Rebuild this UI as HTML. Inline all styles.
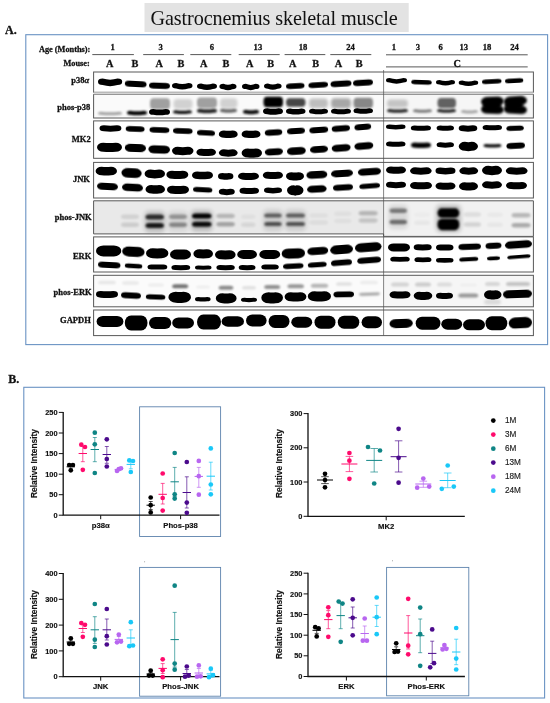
<!DOCTYPE html>
<html lang="en"><head><meta charset="utf-8"><title>Gastrocnemius skeletal muscle</title>
<style>html,body{margin:0;padding:0;background:#fff}svg{display:block}.s{font-family:'Liberation Serif','Times New Roman',serif}.a{font-family:'Liberation Sans',Arial,sans-serif}.b{font-weight:bold}.s.b{stroke:#111;stroke-width:.28px}.a.b{stroke:#111;stroke-width:.15px}</style></head><body>
<svg width="550" height="703" viewBox="0 0 550 703">
<rect width="550" height="703" fill="#fff"/>
<defs>
<filter id="b0_7" x="-30%" y="-80%" width="160%" height="260%"><feGaussianBlur stdDeviation="0.7"/></filter>
<filter id="b0_8" x="-30%" y="-80%" width="160%" height="260%"><feGaussianBlur stdDeviation="0.8"/></filter>
<filter id="b0_85" x="-30%" y="-80%" width="160%" height="260%"><feGaussianBlur stdDeviation="0.85"/></filter>
<filter id="b0_9" x="-30%" y="-80%" width="160%" height="260%"><feGaussianBlur stdDeviation="0.9"/></filter>
<filter id="b1_0" x="-30%" y="-80%" width="160%" height="260%"><feGaussianBlur stdDeviation="1.0"/></filter>
<filter id="b1_1" x="-30%" y="-80%" width="160%" height="260%"><feGaussianBlur stdDeviation="1.1"/></filter>
<filter id="b1_2" x="-30%" y="-80%" width="160%" height="260%"><feGaussianBlur stdDeviation="1.2"/></filter>
<filter id="b1_25" x="-30%" y="-80%" width="160%" height="260%"><feGaussianBlur stdDeviation="1.25"/></filter>
<filter id="b1_3" x="-30%" y="-80%" width="160%" height="260%"><feGaussianBlur stdDeviation="1.3"/></filter>
<filter id="b1_4" x="-30%" y="-80%" width="160%" height="260%"><feGaussianBlur stdDeviation="1.4"/></filter>
<filter id="b1_5" x="-30%" y="-80%" width="160%" height="260%"><feGaussianBlur stdDeviation="1.5"/></filter>
<filter id="b1_6" x="-30%" y="-80%" width="160%" height="260%"><feGaussianBlur stdDeviation="1.6"/></filter>
<filter id="b2_2" x="-30%" y="-80%" width="160%" height="260%"><feGaussianBlur stdDeviation="2.2"/></filter>
</defs>
<rect x="144.5" y="3" width="264.2" height="29" fill="#e3e3e3"/>
<text class="s" x="150.4" y="24.6" font-size="20.2" textLength="247.2" lengthAdjust="spacing" fill="#111">Gastrocnemius skeletal muscle</text>
<text class="s b" x="5" y="34.4" font-size="12" fill="#111">A.</text>
<text class="s b" x="8.2" y="383.4" font-size="12" fill="#111">B.</text>
<rect x="25.8" y="34.7" width="521.8" height="309.9" fill="none" stroke="#6a93c4" stroke-width="1.1"/>
<rect x="23.8" y="387.3" width="520.8" height="310.7" fill="none" stroke="#6a93c4" stroke-width="1.1"/>
<text class="s b" x="90.3" y="51.7" font-size="8.3" text-anchor="end" fill="#111">Age (Months):</text>
<text class="s b" x="89.8" y="65.8" font-size="8.3" text-anchor="end" fill="#111">Mouse:</text>
<text class="s b" x="112.6" y="50.2" font-size="8.6" text-anchor="middle" fill="#111">1</text>
<line x1="92.3" y1="54.6" x2="133.9" y2="54.6" stroke="#444" stroke-width="0.9"/>
<text class="s b" x="160.6" y="50.2" font-size="8.6" text-anchor="middle" fill="#111">3</text>
<line x1="143.2" y1="54.6" x2="183.9" y2="54.6" stroke="#444" stroke-width="0.9"/>
<text class="s b" x="212" y="50.2" font-size="8.6" text-anchor="middle" fill="#111">6</text>
<line x1="190.3" y1="54.6" x2="231.3" y2="54.6" stroke="#444" stroke-width="0.9"/>
<text class="s b" x="257.9" y="50.2" font-size="8.6" text-anchor="middle" fill="#111">13</text>
<line x1="238.7" y1="54.6" x2="279.7" y2="54.6" stroke="#444" stroke-width="0.9"/>
<text class="s b" x="303" y="50.2" font-size="8.6" text-anchor="middle" fill="#111">18</text>
<line x1="284.6" y1="54.6" x2="325.3" y2="54.6" stroke="#444" stroke-width="0.9"/>
<text class="s b" x="350.6" y="50.2" font-size="8.6" text-anchor="middle" fill="#111">24</text>
<line x1="330.3" y1="54.6" x2="371.3" y2="54.6" stroke="#444" stroke-width="0.9"/>
<text class="s b" x="109.7" y="66.5" font-size="10.3" text-anchor="middle" fill="#111">A</text>
<text class="s b" x="135" y="66.5" font-size="10.3" text-anchor="middle" fill="#111">B</text>
<text class="s b" x="159.2" y="66.5" font-size="10.3" text-anchor="middle" fill="#111">A</text>
<text class="s b" x="181" y="66.5" font-size="10.3" text-anchor="middle" fill="#111">B</text>
<text class="s b" x="203.7" y="66.5" font-size="10.3" text-anchor="middle" fill="#111">A</text>
<text class="s b" x="226" y="66.5" font-size="10.3" text-anchor="middle" fill="#111">B</text>
<text class="s b" x="249.7" y="66.5" font-size="10.3" text-anchor="middle" fill="#111">A</text>
<text class="s b" x="270.7" y="66.5" font-size="10.3" text-anchor="middle" fill="#111">B</text>
<text class="s b" x="292.8" y="66.5" font-size="10.3" text-anchor="middle" fill="#111">A</text>
<text class="s b" x="315.7" y="66.5" font-size="10.3" text-anchor="middle" fill="#111">B</text>
<text class="s b" x="338.4" y="66.5" font-size="10.3" text-anchor="middle" fill="#111">A</text>
<text class="s b" x="359.3" y="66.5" font-size="10.3" text-anchor="middle" fill="#111">B</text>
<text class="s b" x="393.9" y="50.2" font-size="8.6" text-anchor="middle" fill="#111">1</text>
<text class="s b" x="418" y="50.2" font-size="8.6" text-anchor="middle" fill="#111">3</text>
<text class="s b" x="440.7" y="50.2" font-size="8.6" text-anchor="middle" fill="#111">6</text>
<text class="s b" x="463.7" y="50.2" font-size="8.6" text-anchor="middle" fill="#111">13</text>
<text class="s b" x="487" y="50.2" font-size="8.6" text-anchor="middle" fill="#111">18</text>
<text class="s b" x="514.6" y="50.2" font-size="8.6" text-anchor="middle" fill="#111">24</text>
<line x1="386" y1="54.8" x2="527.7" y2="54.8" stroke="#444" stroke-width="0.9"/>
<line x1="386" y1="66.9" x2="527.7" y2="66.9" stroke="#444" stroke-width="0.9"/>
<text class="s b" x="457.2" y="67.1" font-size="10.3" text-anchor="middle" fill="#111">C</text>
<text class="s b" x="89.2" y="83" font-size="8.5" text-anchor="end" fill="#111">p38<tspan font-style="italic">α</tspan></text>
<clipPath id="c1"><rect x="93.6" y="72" width="439.8" height="20.3"/></clipPath>
<rect x="93.6" y="72" width="290" height="20.3" fill="#ffffff"/>
<rect x="383.6" y="72" width="149.8" height="20.3" fill="#ffffff"/>
<g clip-path="url(#c1)">
<path d="M102.7 78.6 Q110.1 80.8 117.5 78.6 A4.7 3.25 0 0 1 117.5 85.1 Q110.1 87.3 102.7 85.1 A4.7 3.25 0 0 1 102.7 78.6Z" fill="#000" opacity="1" filter="url(#b0_7)"/>
<path d="M129.2 81 Q135.7 81 142.2 81 A4.4 3 0 0 1 142.2 87 Q135.7 87 129.2 87 A4.4 3 0 0 1 129.2 81Z" fill="#000" opacity="1" filter="url(#b0_7)" transform="rotate(3 135.7 84)"/>
<path d="M153.4 82.7 Q159.5 82.7 165.6 82.7 A4.4 3 0 0 1 165.6 88.7 Q159.5 88.7 153.4 88.7 A4.4 3 0 0 1 153.4 82.7Z" fill="#000" opacity="1" filter="url(#b0_7)" transform="rotate(2 159.5 85.7)"/>
<path d="M176.1 82.9 Q182.25 85.1 188.4 82.9 A4.1 2.75 0 0 1 188.4 88.4 Q182.25 90.6 176.1 88.4 A4.1 2.75 0 0 1 176.1 82.9Z" fill="#000" opacity="1" filter="url(#b0_7)"/>
<path d="M201.1 83.5 Q207 85.7 212.9 83.5 A4.1 2.75 0 0 1 212.9 89 Q207 91.2 201.1 89 A4.1 2.75 0 0 1 201.1 83.5Z" fill="#000" opacity="1" filter="url(#b0_7)"/>
<path d="M223.5 83.7 Q227.95 85.9 232.4 83.7 A4.1 2.75 0 0 1 232.4 89.2 Q227.95 91.4 223.5 89.2 A4.1 2.75 0 0 1 223.5 83.7Z" fill="#000" opacity="1" filter="url(#b0_7)"/>
<path d="M245.92 83.85 Q250.75 86.05 255.58 83.85 A3.92 2.6 0 0 1 255.58 89.05 Q250.75 91.25 245.92 89.05 A3.92 2.6 0 0 1 245.92 83.85Z" fill="#000" opacity="1" filter="url(#b0_7)"/>
<path d="M267.92 83.45 Q272.8 85.65 277.68 83.45 A3.92 2.6 0 0 1 277.68 88.65 Q272.8 90.85 267.92 88.65 A3.92 2.6 0 0 1 267.92 83.45Z" fill="#000" opacity="1" filter="url(#b0_7)"/>
<path d="M290.1 83.25 Q295.25 83.25 300.4 83.25 A4.1 2.75 0 0 1 300.4 88.75 Q295.25 88.75 290.1 88.75 A4.1 2.75 0 0 1 290.1 83.25Z" fill="#000" opacity="1" filter="url(#b0_7)" transform="rotate(-3 295.25 86)"/>
<path d="M312.5 82.15 Q318.2 82.15 323.9 82.15 A4.1 2.75 0 0 1 323.9 87.65 Q318.2 87.65 312.5 87.65 A4.1 2.75 0 0 1 312.5 82.15Z" fill="#000" opacity="1" filter="url(#b0_7)" transform="rotate(-3.45 318.2 84.9)"/>
<path d="M334.9 80.7 Q341 80.7 347.1 80.7 A4.4 3 0 0 1 347.1 86.7 Q341 86.7 334.9 86.7 A4.4 3 0 0 1 334.9 80.7Z" fill="#000" opacity="1" filter="url(#b0_7)" transform="rotate(-3.45 341 83.7)"/>
<path d="M357.4 79.8 Q363 79.8 368.6 79.8 A4.4 3 0 0 1 368.6 85.8 Q363 85.8 357.4 85.8 A4.4 3 0 0 1 357.4 79.8Z" fill="#000" opacity="1" filter="url(#b0_7)" transform="rotate(-3.45 363 82.8)"/>
<path d="M389.5 78.1 Q396.5 80.3 403.5 78.1 A3.5 2.25 0 0 1 403.5 82.6 Q396.5 84.8 389.5 82.6 A3.5 2.25 0 0 1 389.5 78.1Z" fill="#000" opacity="1" filter="url(#b0_7)"/>
<path d="M414.8 80.05 Q421.5 80.05 428.2 80.05 A3.5 2.25 0 0 1 428.2 84.55 Q421.5 84.55 414.8 84.55 A3.5 2.25 0 0 1 414.8 80.05Z" fill="#000" opacity="1" filter="url(#b0_7)" transform="rotate(2 421.5 82.3)"/>
<path d="M439.5 80 Q445.5 82.2 451.5 80 A3.5 2.25 0 0 1 451.5 84.5 Q445.5 86.7 439.5 84.5 A3.5 2.25 0 0 1 439.5 80Z" fill="#000" opacity="1" filter="url(#b0_7)"/>
<path d="M462.2 80.4 Q468.45 82.6 474.7 80.4 A3.5 2.25 0 0 1 474.7 84.9 Q468.45 87.1 462.2 84.9 A3.5 2.25 0 0 1 462.2 80.4Z" fill="#000" opacity="1" filter="url(#b0_7)"/>
<path d="M485.5 79.35 Q491.75 79.35 498 79.35 A3.5 2.25 0 0 1 498 83.85 Q491.75 83.85 485.5 83.85 A3.5 2.25 0 0 1 485.5 79.35Z" fill="#000" opacity="1" filter="url(#b0_7)" transform="rotate(-3 491.75 81.6)"/>
<path d="M508.5 78.55 Q514.15 78.55 519.8 78.55 A3.5 2.25 0 0 1 519.8 83.05 Q514.15 83.05 508.5 83.05 A3.5 2.25 0 0 1 508.5 78.55Z" fill="#000" opacity="1" filter="url(#b0_7)" transform="rotate(-3 514.15 80.8)"/>
</g>
<rect x="93.6" y="72" width="439.8" height="20.3" fill="none" stroke="#585858" stroke-width="1.0"/>
<text class="s b" x="90.3" y="109.8" font-size="8.5" text-anchor="end" fill="#111">phos-p38</text>
<clipPath id="c2"><rect x="93.6" y="94.5" width="439.8" height="23.5"/></clipPath>
<rect x="93.6" y="94.5" width="290" height="23.5" fill="#fafafa"/>
<rect x="383.6" y="94.5" width="149.8" height="23.5" fill="#f6f6f6"/>
<g clip-path="url(#c2)">
<path d="M100.6 111.85 Q110 112.85 119.4 111.85 A2.6 1.5 0 0 1 119.4 114.85 Q110 115.85 100.6 114.85 A2.6 1.5 0 0 1 100.6 111.85Z" fill="#000" opacity="0.35" filter="url(#b0_9)"/>
<path d="M130.32 110.65 Q137 111.65 143.68 110.65 A3.32 2.1 0 0 1 143.68 114.85 Q137 115.85 130.32 114.85 A3.32 2.1 0 0 1 130.32 110.65Z" fill="#000" opacity="1" filter="url(#b0_8)"/>
<path d="M153.28 109.05 Q159.5 110.05 165.72 109.05 A4.28 2.9 0 0 1 165.72 114.85 Q159.5 115.85 153.28 114.85 A4.28 2.9 0 0 1 153.28 109.05Z" fill="#000" opacity="1" filter="url(#b0_7)"/>
<path d="M175.78 110.3 Q182.5 111.3 189.22 110.3 A2.78 1.65 0 0 1 189.22 113.6 Q182.5 114.6 175.78 113.6 A2.78 1.65 0 0 1 175.78 110.3Z" fill="#000" opacity="0.95" filter="url(#b0_8)"/>
<path d="M200.2 108.75 Q207 109.75 213.8 108.75 A3.2 2 0 0 1 213.8 112.75 Q207 113.75 200.2 112.75 A3.2 2 0 0 1 200.2 108.75Z" fill="#000" opacity="0.85" filter="url(#b0_8)"/>
<path d="M222.9 108.7 Q228.5 109.7 234.1 108.7 A2.9 1.75 0 0 1 234.1 112.2 Q228.5 113.2 222.9 112.2 A2.9 1.75 0 0 1 222.9 108.7Z" fill="#000" opacity="0.6" filter="url(#b0_9)"/>
<path d="M246.2 109.75 Q251 110.75 255.8 109.75 A3.2 2 0 0 1 255.8 113.75 Q251 114.75 246.2 113.75 A3.2 2 0 0 1 246.2 109.75Z" fill="#000" opacity="0.95" filter="url(#b0_8)"/>
<path d="M267.4 108.35 Q273 109.35 278.6 108.35 A4.4 3 0 0 1 278.6 114.35 Q273 115.35 267.4 114.35 A4.4 3 0 0 1 267.4 108.35Z" fill="#000" opacity="1" filter="url(#b0_7)"/>
<path d="M290.1 108.6 Q295.75 109.6 301.4 108.6 A4.1 2.75 0 0 1 301.4 114.1 Q295.75 115.1 290.1 114.1 A4.1 2.75 0 0 1 290.1 108.6Z" fill="#000" opacity="1" filter="url(#b0_7)"/>
<path d="M312.8 108.85 Q318.5 109.85 324.2 108.85 A3.8 2.5 0 0 1 324.2 113.85 Q318.5 114.85 312.8 113.85 A3.8 2.5 0 0 1 312.8 108.85Z" fill="#000" opacity="1" filter="url(#b0_7)"/>
<path d="M334.8 108.65 Q341 109.65 347.2 108.65 A3.8 2.5 0 0 1 347.2 113.65 Q341 114.65 334.8 113.65 A3.8 2.5 0 0 1 334.8 108.65Z" fill="#000" opacity="1" filter="url(#b0_7)"/>
<path d="M357.3 108.25 Q363.25 109.25 369.2 108.25 A3.8 2.5 0 0 1 369.2 113.25 Q363.25 114.25 357.3 113.25 A3.8 2.5 0 0 1 357.3 108.25Z" fill="#000" opacity="1" filter="url(#b0_7)"/>
<rect x="150" y="98.3" width="20" height="11" rx="3.5" ry="4.2" fill="#000" opacity="0.36" filter="url(#b1_3)"/>
<rect x="173.5" y="99" width="19" height="10" rx="3.5" ry="4.2" fill="#000" opacity="0.16" filter="url(#b1_5)"/>
<rect x="197" y="97.55" width="20" height="10.5" rx="3.5" ry="4.2" fill="#000" opacity="0.36" filter="url(#b1_3)"/>
<rect x="220" y="98.2" width="17.5" height="10" rx="3.5" ry="4.2" fill="#000" opacity="0.16" filter="url(#b1_5)"/>
<rect x="263.5" y="96.75" width="19.5" height="10.5" rx="3.5" ry="4.2" fill="#000" opacity="1" filter="url(#b0_9)"/>
<rect x="286" y="98.25" width="19.5" height="8.5" rx="3.5" ry="4.2" fill="#000" opacity="0.72" filter="url(#b1_3)"/>
<rect x="309" y="98.55" width="19" height="9.5" rx="3.5" ry="4.2" fill="#000" opacity="0.24" filter="url(#b1_5)"/>
<rect x="331" y="98.3" width="20" height="10" rx="3.5" ry="4.2" fill="#000" opacity="0.33" filter="url(#b1_4)"/>
<rect x="353.5" y="97.75" width="19.5" height="10.5" rx="3.5" ry="4.2" fill="#000" opacity="0.46" filter="url(#b1_3)"/>
<path d="M389.72 109.05 Q397.5 110.05 405.28 109.05 A2.72 1.6 0 0 1 405.28 112.25 Q397.5 113.25 389.72 112.25 A2.72 1.6 0 0 1 389.72 109.05Z" fill="#000" opacity="0.85" filter="url(#b0_8)"/>
<rect x="387" y="99.5" width="21" height="8" rx="3.5" ry="4" fill="#000" opacity="0.2" filter="url(#b1_6)"/>
<path d="M415.6 109.25 Q422.5 110.25 429.4 109.25 A2.6 1.5 0 0 1 429.4 112.25 Q422.5 113.25 415.6 112.25 A2.6 1.5 0 0 1 415.6 109.25Z" fill="#000" opacity="0.5" filter="url(#b0_9)"/>
<path d="M439.72 109.05 Q446.5 110.05 453.28 109.05 A2.72 1.6 0 0 1 453.28 112.25 Q446.5 113.25 439.72 112.25 A2.72 1.6 0 0 1 439.72 109.05Z" fill="#000" opacity="0.85" filter="url(#b0_8)"/>
<rect x="437.5" y="98" width="18.5" height="10" rx="3.5" ry="4.2" fill="#000" opacity="0.6" filter="url(#b1_3)"/>
<path d="M463.6 110.05 Q469.5 111.05 475.4 110.05 A2.6 1.5 0 0 1 475.4 113.05 Q469.5 114.05 463.6 113.05 A2.6 1.5 0 0 1 463.6 110.05Z" fill="#000" opacity="0.32" filter="url(#b0_9)"/>
<path d="M487.5 96.75 Q492.4 96.75 497.3 96.75 A6.5 4.75 0 0 1 497.3 106.25 Q492.4 106.25 487.5 106.25 A6.5 4.75 0 0 1 487.5 96.75Z" fill="#000" opacity="1" filter="url(#b0_8)" transform="rotate(-2 492.4 101.5)"/>
<path d="M486.9 105.25 Q492.4 105.25 497.9 105.25 A5.9 4.25 0 0 1 497.9 113.75 Q492.4 113.75 486.9 113.75 A5.9 4.25 0 0 1 486.9 105.25Z" fill="#000" opacity="1" filter="url(#b0_8)" transform="rotate(2 492.4 109.5)"/>
<path d="M488.6 101.25 Q492 102.25 495.4 101.25 A5.6 4 0 0 1 495.4 109.25 Q492 110.25 488.6 109.25 A5.6 4 0 0 1 488.6 101.25Z" fill="#000" opacity="1" filter="url(#b0_8)"/>
<path d="M510.3 96.25 Q515.4 96.25 520.5 96.25 A6.5 4.75 0 0 1 520.5 105.75 Q515.4 105.75 510.3 105.75 A6.5 4.75 0 0 1 510.3 96.25Z" fill="#000" opacity="1" filter="url(#b0_8)" transform="rotate(-3.9 515.4 101)"/>
<path d="M509.7 105.25 Q515.4 105.25 521.1 105.25 A5.9 4.25 0 0 1 521.1 113.75 Q515.4 113.75 509.7 113.75 A5.9 4.25 0 0 1 509.7 105.25Z" fill="#000" opacity="1" filter="url(#b0_8)" transform="rotate(3 515.4 109.5)"/>
<path d="M510.6 101.05 Q514 102.05 517.4 101.05 A5.6 4 0 0 1 517.4 109.05 Q514 110.05 510.6 109.05 A5.6 4 0 0 1 510.6 101.05Z" fill="#000" opacity="1" filter="url(#b0_8)"/>
</g>
<rect x="93.6" y="94.5" width="439.8" height="23.5" fill="none" stroke="#585858" stroke-width="1.0"/>
<text class="s b" x="90.7" y="142" font-size="8.5" text-anchor="end" fill="#111">MK2</text>
<clipPath id="c3"><rect x="93.6" y="120.9" width="439.8" height="37.4"/></clipPath>
<rect x="93.6" y="120.9" width="290" height="37.4" fill="#ffffff"/>
<rect x="383.6" y="120.9" width="149.8" height="37.4" fill="#ffffff"/>
<g clip-path="url(#c3)">
<path d="M103.9 125.35 Q110.45 125.95 117 125.35 A4.4 3 0 0 1 117 131.35 Q110.45 131.95 103.9 131.35 A4.4 3 0 0 1 103.9 125.35Z" fill="#000" opacity="1" filter="url(#b0_7)"/>
<path d="M129.8 126.25 Q135.15 126.25 140.5 126.25 A4.1 2.75 0 0 1 140.5 131.75 Q135.15 131.75 129.8 131.75 A4.1 2.75 0 0 1 129.8 126.25Z" fill="#000" opacity="1" filter="url(#b0_7)" transform="rotate(2 135.15 129)"/>
<path d="M153.6 127.25 Q159.45 127.25 165.3 127.25 A4.1 2.75 0 0 1 165.3 132.75 Q159.45 132.75 153.6 132.75 A4.1 2.75 0 0 1 153.6 127.25Z" fill="#000" opacity="1" filter="url(#b0_7)" transform="rotate(2 159.45 130)"/>
<path d="M177.1 128.25 Q182.8 128.25 188.5 128.25 A4.1 2.75 0 0 1 188.5 133.75 Q182.8 133.75 177.1 133.75 A4.1 2.75 0 0 1 177.1 128.25Z" fill="#000" opacity="1" filter="url(#b0_7)" transform="rotate(2 182.8 131)"/>
<path d="M200.92 130.3 Q206 130.3 211.08 130.3 A3.92 2.6 0 0 1 211.08 135.5 Q206 135.5 200.92 135.5 A3.92 2.6 0 0 1 200.92 130.3Z" fill="#000" opacity="1" filter="url(#b0_7)" transform="rotate(3 206 132.9)"/>
<path d="M223.92 130.55 Q228.25 131.15 232.58 130.55 A5.12 3.6 0 0 1 232.58 137.75 Q228.25 138.35 223.92 137.75 A5.12 3.6 0 0 1 223.92 130.55Z" fill="#000" opacity="1" filter="url(#b0_7)"/>
<path d="M246.72 130.55 Q251.05 131.15 255.38 130.55 A5.12 3.6 0 0 1 255.38 137.75 Q251.05 138.35 246.72 137.75 A5.12 3.6 0 0 1 246.72 130.55Z" fill="#000" opacity="1" filter="url(#b0_7)"/>
<path d="M269.2 129.6 Q273.55 129.6 277.9 129.6 A4.4 3 0 0 1 277.9 135.6 Q273.55 135.6 269.2 135.6 A4.4 3 0 0 1 269.2 129.6Z" fill="#000" opacity="1" filter="url(#b0_7)" transform="rotate(-3.45 273.55 132.6)"/>
<path d="M291.4 128 Q296 128 300.6 128 A4.4 3 0 0 1 300.6 134 Q296 134 291.4 134 A4.4 3 0 0 1 291.4 128Z" fill="#000" opacity="1" filter="url(#b0_7)" transform="rotate(-3.45 296 131)"/>
<path d="M313.58 127.1 Q318.75 127.1 323.92 127.1 A4.28 2.9 0 0 1 323.92 132.9 Q318.75 132.9 313.58 132.9 A4.28 2.9 0 0 1 313.58 127.1Z" fill="#000" opacity="1" filter="url(#b0_7)" transform="rotate(-3.9 318.75 130)"/>
<path d="M335.98 125.6 Q340.85 125.6 345.72 125.6 A4.28 2.9 0 0 1 345.72 131.4 Q340.85 131.4 335.98 131.4 A4.28 2.9 0 0 1 335.98 125.6Z" fill="#000" opacity="1" filter="url(#b0_7)" transform="rotate(-4.35 340.85 128.5)"/>
<path d="M358.68 124.1 Q362.8 124.1 366.92 124.1 A4.28 2.9 0 0 1 366.92 129.9 Q362.8 129.9 358.68 129.9 A4.28 2.9 0 0 1 358.68 124.1Z" fill="#000" opacity="1" filter="url(#b0_7)" transform="rotate(-4.8 362.8 127)"/>
<path d="M103.2 142.75 Q109.5 143.35 115.8 142.75 A6.2 4.5 0 0 1 115.8 151.75 Q109.5 152.35 103.2 151.75 A6.2 4.5 0 0 1 103.2 142.75Z" fill="#000" opacity="1" filter="url(#b0_7)"/>
<path d="M130.4 144 Q135.4 144 140.4 144 A5.6 4 0 0 1 140.4 152 Q135.4 152 130.4 152 A5.6 4 0 0 1 130.4 144Z" fill="#000" opacity="1" filter="url(#b0_7)" transform="rotate(2 135.4 148)"/>
<path d="M154 145.4 Q159.2 145.4 164.4 145.4 A5.6 4 0 0 1 164.4 153.4 Q159.2 153.4 154 153.4 A5.6 4 0 0 1 154 145.4Z" fill="#000" opacity="1" filter="url(#b0_7)" transform="rotate(2 159.2 149.4)"/>
<path d="M177.6 146.85 Q182.75 147.45 187.9 146.85 A5.6 4 0 0 1 187.9 154.85 Q182.75 155.45 177.6 154.85 A5.6 4 0 0 1 177.6 146.85Z" fill="#000" opacity="1" filter="url(#b0_7)"/>
<path d="M201.4 148.75 Q206.2 149.35 211 148.75 A5 3.5 0 0 1 211 155.75 Q206.2 156.35 201.4 155.75 A5 3.5 0 0 1 201.4 148.75Z" fill="#000" opacity="1" filter="url(#b0_7)"/>
<path d="M223.8 149.35 Q228.25 149.95 232.7 149.35 A5 3.5 0 0 1 232.7 156.35 Q228.25 156.95 223.8 156.35 A5 3.5 0 0 1 223.8 149.35Z" fill="#000" opacity="1" filter="url(#b0_7)"/>
<path d="M247.8 148.55 Q251.8 149.15 255.8 148.55 A6.2 4.5 0 0 1 255.8 157.55 Q251.8 158.15 247.8 157.55 A6.2 4.5 0 0 1 247.8 148.55Z" fill="#000" opacity="1" filter="url(#b0_7)"/>
<path d="M269.68 148.4 Q273.9 148.4 278.12 148.4 A4.88 3.4 0 0 1 278.12 155.2 Q273.9 155.2 269.68 155.2 A4.88 3.4 0 0 1 269.68 148.4Z" fill="#000" opacity="1" filter="url(#b0_7)" transform="rotate(-3.45 273.9 151.8)"/>
<path d="M292.3 147.25 Q296.4 147.25 300.5 147.25 A5.3 3.75 0 0 1 300.5 154.75 Q296.4 154.75 292.3 154.75 A5.3 3.75 0 0 1 292.3 147.25Z" fill="#000" opacity="1" filter="url(#b0_7)" transform="rotate(-3.45 296.4 151)"/>
<path d="M314.88 146 Q319 146 323.12 146 A4.88 3.4 0 0 1 323.12 152.8 Q319 152.8 314.88 152.8 A4.88 3.4 0 0 1 314.88 146Z" fill="#000" opacity="1" filter="url(#b0_7)" transform="rotate(-3.9 319 149.4)"/>
<path d="M336.58 144.6 Q341.15 144.6 345.72 144.6 A4.88 3.4 0 0 1 345.72 151.4 Q341.15 151.4 336.58 151.4 A4.88 3.4 0 0 1 336.58 144.6Z" fill="#000" opacity="1" filter="url(#b0_7)" transform="rotate(-4.35 341.15 148)"/>
<path d="M359.28 142.6 Q363.85 142.6 368.42 142.6 A4.88 3.4 0 0 1 368.42 149.4 Q363.85 149.4 359.28 149.4 A4.88 3.4 0 0 1 359.28 142.6Z" fill="#000" opacity="1" filter="url(#b0_7)" transform="rotate(-4.8 363.85 146)"/>
<path d="M389.5 124.6 Q395.75 125.2 402 124.6 A3.5 2.25 0 0 1 402 129.1 Q395.75 129.7 389.5 129.1 A3.5 2.25 0 0 1 389.5 124.6Z" fill="#000" opacity="1" filter="url(#b0_7)"/>
<path d="M414.6 125.55 Q420.9 126.15 427.2 125.55 A3.8 2.5 0 0 1 427.2 130.55 Q420.9 131.15 414.6 130.55 A3.8 2.5 0 0 1 414.6 125.55Z" fill="#000" opacity="1" filter="url(#b0_7)"/>
<path d="M440.4 125.55 Q445.3 126.15 450.2 125.55 A3.8 2.5 0 0 1 450.2 130.55 Q445.3 131.15 440.4 130.55 A3.8 2.5 0 0 1 440.4 125.55Z" fill="#000" opacity="1" filter="url(#b0_7)"/>
<path d="M463.1 125.35 Q468 125.95 472.9 125.35 A4.4 3 0 0 1 472.9 131.35 Q468 131.95 463.1 131.35 A4.4 3 0 0 1 463.1 125.35Z" fill="#000" opacity="1" filter="url(#b0_7)"/>
<path d="M486.4 124.95 Q492.3 125.55 498.2 124.95 A3.8 2.5 0 0 1 498.2 129.95 Q492.3 130.55 486.4 129.95 A3.8 2.5 0 0 1 486.4 124.95Z" fill="#000" opacity="1" filter="url(#b0_7)"/>
<path d="M510.2 125.7 Q515.1 125.7 520 125.7 A3.8 2.5 0 0 1 520 130.7 Q515.1 130.7 510.2 130.7 A3.8 2.5 0 0 1 510.2 125.7Z" fill="#000" opacity="1" filter="url(#b0_7)" transform="rotate(-2 515.1 128.2)"/>
<path d="M389.8 141.55 Q395.75 142.15 401.7 141.55 A3.8 2.5 0 0 1 401.7 146.55 Q395.75 147.15 389.8 146.55 A3.8 2.5 0 0 1 389.8 141.55Z" fill="#000" opacity="1" filter="url(#b0_7)"/>
<path d="M414.92 142.45 Q421 143.05 427.08 142.45 A3.92 2.6 0 0 1 427.08 147.65 Q421 148.25 414.92 147.65 A3.92 2.6 0 0 1 414.92 142.45Z" fill="#000" opacity="1" filter="url(#b0_85)"/>
<path d="M440.4 142.35 Q445.3 142.95 450.2 142.35 A3.8 2.5 0 0 1 450.2 147.35 Q445.3 147.95 440.4 147.35 A3.8 2.5 0 0 1 440.4 142.35Z" fill="#000" opacity="1" filter="url(#b0_7)"/>
<path d="M464.9 141.85 Q468.35 142.45 471.8 141.85 A6.2 4.5 0 0 1 471.8 150.85 Q468.35 151.45 464.9 150.85 A6.2 4.5 0 0 1 464.9 141.85Z" fill="#000" opacity="1" filter="url(#b0_7)"/>
<path d="M486.12 143.95 Q492.45 144.55 498.78 143.95 A2.72 1.6 0 0 1 498.78 147.15 Q492.45 147.75 486.12 147.15 A2.72 1.6 0 0 1 486.12 143.95Z" fill="#000" opacity="0.95" filter="url(#b0_8)"/>
<path d="M510.8 142.7 Q515.7 142.7 520.6 142.7 A4.4 3 0 0 1 520.6 148.7 Q515.7 148.7 510.8 148.7 A4.4 3 0 0 1 510.8 142.7Z" fill="#000" opacity="1" filter="url(#b0_7)" transform="rotate(-3 515.7 145.7)"/>
</g>
<rect x="93.6" y="120.9" width="439.8" height="37.4" fill="none" stroke="#585858" stroke-width="1.0"/>
<text class="s b" x="89.9" y="182.4" font-size="8.5" text-anchor="end" fill="#111">JNK</text>
<clipPath id="c4"><rect x="93.6" y="162.4" width="439.8" height="35.6"/></clipPath>
<rect x="93.6" y="162.4" width="290" height="35.6" fill="#ffffff"/>
<rect x="383.6" y="162.4" width="149.8" height="35.6" fill="#ffffff"/>
<g clip-path="url(#c4)">
<path d="M101.56 166.65 Q106.3 167.25 111.04 166.65 A5.96 4.3 0 0 1 111.04 175.25 Q106.3 175.85 101.56 175.25 A5.96 4.3 0 0 1 101.56 166.65Z" fill="#000" opacity="1" filter="url(#b0_7)"/>
<path d="M127.9 168.35 Q131.55 168.35 135.2 168.35 A6.5 4.75 0 0 1 135.2 177.85 Q131.55 177.85 127.9 177.85 A6.5 4.75 0 0 1 127.9 168.35Z" fill="#000" opacity="1" filter="url(#b0_7)" transform="rotate(3 131.55 173.1)"/>
<path d="M150.5 169.6 Q154.8 170.2 159.1 169.6 A5.9 4.25 0 0 1 159.1 178.1 Q154.8 178.7 150.5 178.1 A5.9 4.25 0 0 1 150.5 169.6Z" fill="#000" opacity="1" filter="url(#b0_7)"/>
<path d="M172 170.65 Q177.35 171.25 182.7 170.65 A5.6 4 0 0 1 182.7 178.65 Q177.35 179.25 172 178.65 A5.6 4 0 0 1 172 170.65Z" fill="#000" opacity="1" filter="url(#b0_7)"/>
<path d="M197.3 171.5 Q202.5 172.1 207.7 171.5 A5.3 3.75 0 0 1 207.7 179 Q202.5 179.6 197.3 179 A5.3 3.75 0 0 1 197.3 171.5Z" fill="#000" opacity="1" filter="url(#b0_7)"/>
<path d="M222.7 172.9 Q225.7 173.5 228.7 172.9 A4.7 3.25 0 0 1 228.7 179.4 Q225.7 180 222.7 179.4 A4.7 3.25 0 0 1 222.7 172.9Z" fill="#000" opacity="1" filter="url(#b0_7)"/>
<path d="M243 172.65 Q248.5 173.25 254 172.65 A5 3.5 0 0 1 254 179.65 Q248.5 180.25 243 179.65 A5 3.5 0 0 1 243 172.65Z" fill="#000" opacity="1" filter="url(#b0_7)"/>
<path d="M267.8 171.75 Q272.9 172.35 278 171.75 A5 3.5 0 0 1 278 178.75 Q272.9 179.35 267.8 178.75 A5 3.5 0 0 1 267.8 171.75Z" fill="#000" opacity="1" filter="url(#b0_7)"/>
<path d="M291.6 172.15 Q295 172.75 298.4 172.15 A5.6 4 0 0 1 298.4 180.15 Q295 180.75 291.6 180.15 A5.6 4 0 0 1 291.6 172.15Z" fill="#000" opacity="1" filter="url(#b0_7)"/>
<path d="M311.7 171.05 Q316.85 171.05 322 171.05 A5.3 3.75 0 0 1 322 178.55 Q316.85 178.55 311.7 178.55 A5.3 3.75 0 0 1 311.7 171.05Z" fill="#000" opacity="1" filter="url(#b0_7)" transform="rotate(-3 316.85 174.8)"/>
<path d="M336 169.9 Q342 169.9 348 169.9 A5 3.5 0 0 1 348 176.9 Q342 176.9 336 176.9 A5 3.5 0 0 1 336 169.9Z" fill="#000" opacity="1" filter="url(#b0_7)" transform="rotate(-3.45 342 173.4)"/>
<path d="M362.9 168.3 Q369.45 168.3 376 168.3 A5 3.5 0 0 1 376 175.3 Q369.45 175.3 362.9 175.3 A5 3.5 0 0 1 362.9 168.3Z" fill="#000" opacity="1" filter="url(#b0_7)" transform="rotate(-3.9 369.45 171.8)"/>
<path d="M102 183 Q107.5 183 113 183 A5 3.5 0 0 1 113 190 Q107.5 190 102 190 A5 3.5 0 0 1 102 183Z" fill="#000" opacity="1" filter="url(#b0_7)" transform="rotate(3 107.5 186.5)"/>
<path d="M127.3 183.85 Q132.5 183.85 137.7 183.85 A5.3 3.75 0 0 1 137.7 191.35 Q132.5 191.35 127.3 191.35 A5.3 3.75 0 0 1 127.3 183.85Z" fill="#000" opacity="1" filter="url(#b0_7)" transform="rotate(3 132.5 187.6)"/>
<path d="M151.4 185 Q155.25 185.6 159.1 185 A5.9 4.25 0 0 1 159.1 193.5 Q155.25 194.1 151.4 193.5 A5.9 4.25 0 0 1 151.4 185Z" fill="#000" opacity="1" filter="url(#b0_7)"/>
<path d="M172.6 185.65 Q178 186.25 183.4 185.65 A5.6 4 0 0 1 183.4 193.65 Q178 194.25 172.6 193.65 A5.6 4 0 0 1 172.6 185.65Z" fill="#000" opacity="1" filter="url(#b0_7)"/>
<path d="M196.8 187.3 Q202.7 187.3 208.6 187.3 A3.8 2.5 0 0 1 208.6 192.3 Q202.7 192.3 196.8 192.3 A3.8 2.5 0 0 1 196.8 187.3Z" fill="#000" opacity="1" filter="url(#b0_7)" transform="rotate(3 202.7 189.8)"/>
<path d="M223.2 188.85 Q226.8 189.45 230.4 188.85 A4.4 3 0 0 1 230.4 194.85 Q226.8 195.45 223.2 194.85 A4.4 3 0 0 1 223.2 188.85Z" fill="#000" opacity="1" filter="url(#b0_7)"/>
<path d="M243.9 187.65 Q249.25 188.25 254.6 187.65 A4.4 3 0 0 1 254.6 193.65 Q249.25 194.25 243.9 193.65 A4.4 3 0 0 1 243.9 187.65Z" fill="#000" opacity="1" filter="url(#b0_7)"/>
<path d="M268.1 187.6 Q273 188.2 277.9 187.6 A4.1 2.75 0 0 1 277.9 193.1 Q273 193.7 268.1 193.1 A4.1 2.75 0 0 1 268.1 187.6Z" fill="#000" opacity="1" filter="url(#b0_7)"/>
<path d="M293.8 185.35 Q295.25 185.95 296.7 185.35 A6.8 5 0 0 1 296.7 195.35 Q295.25 195.95 293.8 195.35 A6.8 5 0 0 1 293.8 185.35Z" fill="#000" opacity="1" filter="url(#b0_7)"/>
<path d="M312 185.6 Q316.85 185.6 321.7 185.6 A5 3.5 0 0 1 321.7 192.6 Q316.85 192.6 312 192.6 A5 3.5 0 0 1 312 185.6Z" fill="#000" opacity="1" filter="url(#b0_7)" transform="rotate(-3 316.85 189.1)"/>
<path d="M337.4 184.6 Q343 184.6 348.6 184.6 A4.4 3 0 0 1 348.6 190.6 Q343 190.6 337.4 190.6 A4.4 3 0 0 1 337.4 184.6Z" fill="#000" opacity="1" filter="url(#b0_7)" transform="rotate(-3.45 343 187.6)"/>
<path d="M363.1 183.6 Q369.65 183.6 376.2 183.6 A3.8 2.5 0 0 1 376.2 188.6 Q369.65 188.6 363.1 188.6 A3.8 2.5 0 0 1 363.1 183.6Z" fill="#000" opacity="1" filter="url(#b0_7)" transform="rotate(-4.35 369.65 186.1)"/>
<path d="M391 166.55 Q396 167.15 401 166.55 A5 3.5 0 0 1 401 173.55 Q396 174.15 391 173.55 A5 3.5 0 0 1 391 166.55Z" fill="#000" opacity="1" filter="url(#b0_7)"/>
<path d="M415 167.35 Q420.85 167.95 426.7 167.35 A5 3.5 0 0 1 426.7 174.35 Q420.85 174.95 415 174.35 A5 3.5 0 0 1 415 167.35Z" fill="#000" opacity="1" filter="url(#b0_7)"/>
<path d="M440.2 167.6 Q445.5 168.2 450.8 167.6 A4.7 3.25 0 0 1 450.8 174.1 Q445.5 174.7 440.2 174.1 A4.7 3.25 0 0 1 440.2 167.6Z" fill="#000" opacity="1" filter="url(#b0_7)"/>
<path d="M464.3 167.35 Q468.75 167.95 473.2 167.35 A5 3.5 0 0 1 473.2 174.35 Q468.75 174.95 464.3 174.35 A5 3.5 0 0 1 464.3 167.35Z" fill="#000" opacity="1" filter="url(#b0_7)"/>
<path d="M488.2 165.85 Q492 166.45 495.8 165.85 A6.2 4.5 0 0 1 495.8 174.85 Q492 175.45 488.2 174.85 A6.2 4.5 0 0 1 488.2 165.85Z" fill="#000" opacity="1" filter="url(#b0_7)"/>
<path d="M510.8 167.35 Q516.7 167.95 522.6 167.35 A5 3.5 0 0 1 522.6 174.35 Q516.7 174.95 510.8 174.35 A5 3.5 0 0 1 510.8 167.35Z" fill="#000" opacity="1" filter="url(#b0_7)"/>
<path d="M390.4 181.85 Q396 182.45 401.6 181.85 A4.4 3 0 0 1 401.6 187.85 Q396 188.45 390.4 187.85 A4.4 3 0 0 1 390.4 181.85Z" fill="#000" opacity="1" filter="url(#b0_7)"/>
<path d="M415 181.95 Q421 182.55 427 181.95 A5 3.5 0 0 1 427 188.95 Q421 189.55 415 188.95 A5 3.5 0 0 1 415 181.95Z" fill="#000" opacity="1" filter="url(#b0_7)"/>
<path d="M440.5 182.55 Q445.5 183.15 450.5 182.55 A5 3.5 0 0 1 450.5 189.55 Q445.5 190.15 440.5 189.55 A5 3.5 0 0 1 440.5 182.55Z" fill="#000" opacity="1" filter="url(#b0_7)"/>
<path d="M464.6 182.25 Q468.5 182.85 472.4 182.25 A5.6 4 0 0 1 472.4 190.25 Q468.5 190.85 464.6 190.25 A5.6 4 0 0 1 464.6 182.25Z" fill="#000" opacity="1" filter="url(#b0_7)"/>
<path d="M487 181.35 Q492 181.95 497 181.35 A5 3.5 0 0 1 497 188.35 Q492 188.95 487 188.35 A5 3.5 0 0 1 487 181.35Z" fill="#000" opacity="1" filter="url(#b0_7)"/>
<path d="M511 181.95 Q516.5 182.55 522 181.95 A5 3.5 0 0 1 522 188.95 Q516.5 189.55 511 188.95 A5 3.5 0 0 1 511 181.95Z" fill="#000" opacity="1" filter="url(#b0_7)"/>
</g>
<rect x="93.6" y="162.4" width="439.8" height="35.6" fill="none" stroke="#585858" stroke-width="1.0"/>
<text class="s b" x="91.7" y="219.9" font-size="8.5" text-anchor="end" fill="#111">phos-JNK</text>
<clipPath id="c5"><rect x="93.6" y="200.8" width="439.8" height="35.6"/></clipPath>
<rect x="93.6" y="200.8" width="290" height="33.1" fill="#e9e9e9"/>
<rect x="383.6" y="200.8" width="149.8" height="35.6" fill="#f1f1f1"/>
<g clip-path="url(#c5)">
<path d="M124.5 214.55 Q130 214.55 135.5 214.55 A3.5 2.25 0 0 1 135.5 219.05 Q130 219.05 124.5 219.05 A3.5 2.25 0 0 1 124.5 214.55Z" fill="#000" opacity="0.1" filter="url(#b1_25)"/>
<path d="M124.5 222.55 Q130 222.55 135.5 222.55 A3.5 2.25 0 0 1 135.5 227.05 Q130 227.05 124.5 227.05 A3.5 2.25 0 0 1 124.5 222.55Z" fill="#000" opacity="0.12" filter="url(#b1_25)"/>
<path d="M149.3 214.5 Q154.75 214.5 160.2 214.5 A3.8 2.5 0 0 1 160.2 219.5 Q154.75 219.5 149.3 219.5 A3.8 2.5 0 0 1 149.3 214.5Z" fill="#000" opacity="0.78" filter="url(#b1_25)"/>
<path d="M149.3 222.9 Q154.75 222.9 160.2 222.9 A3.8 2.5 0 0 1 160.2 227.9 Q154.75 227.9 149.3 227.9 A3.8 2.5 0 0 1 149.3 222.9Z" fill="#000" opacity="0.88" filter="url(#b1_25)"/>
<rect x="144.5" y="211" width="20.5" height="21.4" rx="4" ry="4.8" fill="#000" opacity="0.18" filter="url(#b2_2)"/>
<path d="M172.5 214.55 Q178 214.55 183.5 214.55 A3.5 2.25 0 0 1 183.5 219.05 Q178 219.05 172.5 219.05 A3.5 2.25 0 0 1 172.5 214.55Z" fill="#000" opacity="0.32" filter="url(#b1_25)"/>
<path d="M172.5 222.55 Q178 222.55 183.5 222.55 A3.5 2.25 0 0 1 183.5 227.05 Q178 227.05 172.5 227.05 A3.5 2.25 0 0 1 172.5 222.55Z" fill="#000" opacity="0.38" filter="url(#b1_25)"/>
<rect x="168" y="210.8" width="20" height="21" rx="4" ry="4.8" fill="#000" opacity="0.08" filter="url(#b2_2)"/>
<path d="M195.8 213.6 Q201.75 213.6 207.7 213.6 A3.8 2.5 0 0 1 207.7 218.6 Q201.75 218.6 195.8 218.6 A3.8 2.5 0 0 1 195.8 213.6Z" fill="#000" opacity="1" filter="url(#b1_25)"/>
<path d="M195.8 221.8 Q201.75 221.8 207.7 221.8 A3.8 2.5 0 0 1 207.7 226.8 Q201.75 226.8 195.8 226.8 A3.8 2.5 0 0 1 195.8 221.8Z" fill="#000" opacity="0.95" filter="url(#b1_25)"/>
<rect x="191" y="210.1" width="21.5" height="21.2" rx="4" ry="4.8" fill="#000" opacity="0.2" filter="url(#b2_2)"/>
<path d="M219.9 213.85 Q225.6 213.85 231.3 213.85 A3.5 2.25 0 0 1 231.3 218.35 Q225.6 218.35 219.9 218.35 A3.5 2.25 0 0 1 219.9 213.85Z" fill="#000" opacity="0.22" filter="url(#b1_25)"/>
<path d="M219.9 222.05 Q225.6 222.05 231.3 222.05 A3.5 2.25 0 0 1 231.3 226.55 Q225.6 226.55 219.9 226.55 A3.5 2.25 0 0 1 219.9 222.05Z" fill="#000" opacity="0.3" filter="url(#b1_25)"/>
<path d="M244.5 214.55 Q248.25 214.55 252 214.55 A3.5 2.25 0 0 1 252 219.05 Q248.25 219.05 244.5 219.05 A3.5 2.25 0 0 1 244.5 214.55Z" fill="#000" opacity="0.04" filter="url(#b1_25)"/>
<path d="M244.5 222.55 Q248.25 222.55 252 222.55 A3.5 2.25 0 0 1 252 227.05 Q248.25 227.05 244.5 227.05 A3.5 2.25 0 0 1 244.5 222.55Z" fill="#000" opacity="0.08" filter="url(#b1_25)"/>
<path d="M267.4 213.6 Q272.95 213.6 278.5 213.6 A3.2 2 0 0 1 278.5 217.6 Q272.95 217.6 267.4 217.6 A3.2 2 0 0 1 267.4 213.6Z" fill="#000" opacity="0.55" filter="url(#b1_25)"/>
<path d="M267.4 222 Q272.95 222 278.5 222 A3.2 2 0 0 1 278.5 226 Q272.95 226 267.4 226 A3.2 2 0 0 1 267.4 222Z" fill="#000" opacity="0.62" filter="url(#b1_25)"/>
<rect x="263.2" y="209.6" width="19.5" height="21.4" rx="4" ry="4.8" fill="#000" opacity="0.12" filter="url(#b2_2)"/>
<path d="M289.2 213.6 Q295.5 213.6 301.8 213.6 A3.2 2 0 0 1 301.8 217.6 Q295.5 217.6 289.2 217.6 A3.2 2 0 0 1 289.2 213.6Z" fill="#000" opacity="0.55" filter="url(#b1_25)"/>
<path d="M289.2 222 Q295.5 222 301.8 222 A3.2 2 0 0 1 301.8 226 Q295.5 226 289.2 226 A3.2 2 0 0 1 289.2 222Z" fill="#000" opacity="0.6" filter="url(#b1_25)"/>
<rect x="285" y="209.6" width="21" height="21.4" rx="4" ry="4.8" fill="#000" opacity="0.12" filter="url(#b2_2)"/>
<path d="M312.8 213.35 Q318.65 213.35 324.5 213.35 A3.5 2.25 0 0 1 324.5 217.85 Q318.65 217.85 312.8 217.85 A3.5 2.25 0 0 1 312.8 213.35Z" fill="#000" opacity="0.04" filter="url(#b1_25)"/>
<path d="M312.8 220.25 Q318.65 220.25 324.5 220.25 A3.5 2.25 0 0 1 324.5 224.75 Q318.65 224.75 312.8 224.75 A3.5 2.25 0 0 1 312.8 220.25Z" fill="#000" opacity="0.05" filter="url(#b1_25)"/>
<path d="M337.5 211.55 Q342.75 211.55 348 211.55 A3.5 2.25 0 0 1 348 216.05 Q342.75 216.05 337.5 216.05 A3.5 2.25 0 0 1 337.5 211.55Z" fill="#000" opacity="0.04" filter="url(#b1_25)"/>
<path d="M337.5 218.85 Q342.75 218.85 348 218.85 A3.5 2.25 0 0 1 348 223.35 Q342.75 223.35 337.5 223.35 A3.5 2.25 0 0 1 337.5 218.85Z" fill="#000" opacity="0.04" filter="url(#b1_25)"/>
<path d="M362.2 210.95 Q368.15 210.95 374.1 210.95 A3.5 2.25 0 0 1 374.1 215.45 Q368.15 215.45 362.2 215.45 A3.5 2.25 0 0 1 362.2 210.95Z" fill="#000" opacity="0.22" filter="url(#b1_25)"/>
<path d="M362.2 218.25 Q368.15 218.25 374.1 218.25 A3.5 2.25 0 0 1 374.1 222.75 Q368.15 222.75 362.2 222.75 A3.5 2.25 0 0 1 362.2 218.25Z" fill="#000" opacity="0.16" filter="url(#b1_25)"/>
<path d="M393 208.55 Q398.25 208.55 403.5 208.55 A3.5 2.25 0 0 1 403.5 213.05 Q398.25 213.05 393 213.05 A3.5 2.25 0 0 1 393 208.55Z" fill="#000" opacity="0.45" filter="url(#b1_25)"/>
<path d="M393 219.75 Q398.25 219.75 403.5 219.75 A3.5 2.25 0 0 1 403.5 224.25 Q398.25 224.25 393 224.25 A3.5 2.25 0 0 1 393 219.75Z" fill="#000" opacity="0.5" filter="url(#b1_25)"/>
<rect x="388.5" y="204.8" width="19.5" height="24.2" rx="4" ry="4.8" fill="#000" opacity="0.1" filter="url(#b2_2)"/>
<path d="M417.5 212.55 Q422 212.55 426.5 212.55 A3.5 2.25 0 0 1 426.5 217.05 Q422 217.05 417.5 217.05 A3.5 2.25 0 0 1 417.5 212.55Z" fill="#000" opacity="0.02" filter="url(#b1_25)"/>
<path d="M417.5 220.55 Q422 220.55 426.5 220.55 A3.5 2.25 0 0 1 426.5 225.05 Q422 225.05 417.5 225.05 A3.5 2.25 0 0 1 417.5 220.55Z" fill="#000" opacity="0.04" filter="url(#b1_25)"/>
<rect x="437.5" y="208.25" width="21.8" height="9.5" rx="4.2" ry="4.75" fill="#000" opacity="1" filter="url(#b0_9)"/>
<rect x="437.5" y="218.65" width="21.8" height="11.5" rx="4.5" ry="5.4" fill="#000" opacity="1" filter="url(#b0_9)"/>
<rect x="436" y="205.1" width="25" height="27" rx="4" ry="4.8" fill="#000" opacity="0.22" filter="url(#b2_2)"/>
<path d="M467.2 212.15 Q472.35 212.15 477.5 212.15 A3.5 2.25 0 0 1 477.5 216.65 Q472.35 216.65 467.2 216.65 A3.5 2.25 0 0 1 467.2 212.15Z" fill="#000" opacity="0.08" filter="url(#b1_25)"/>
<path d="M467.2 222.15 Q472.35 222.15 477.5 222.15 A3.5 2.25 0 0 1 477.5 226.65 Q472.35 226.65 467.2 226.65 A3.5 2.25 0 0 1 467.2 222.15Z" fill="#000" opacity="0.12" filter="url(#b1_25)"/>
<path d="M490.5 212.55 Q495 212.55 499.5 212.55 A3.5 2.25 0 0 1 499.5 217.05 Q495 217.05 490.5 217.05 A3.5 2.25 0 0 1 490.5 212.55Z" fill="#000" opacity="0.03" filter="url(#b1_25)"/>
<path d="M490.5 222.55 Q495 222.55 499.5 222.55 A3.5 2.25 0 0 1 499.5 227.05 Q495 227.05 490.5 227.05 A3.5 2.25 0 0 1 490.5 222.55Z" fill="#000" opacity="0.04" filter="url(#b1_25)"/>
<path d="M515.1 212.95 Q521.05 212.95 527 212.95 A3.5 2.25 0 0 1 527 217.45 Q521.05 217.45 515.1 217.45 A3.5 2.25 0 0 1 515.1 212.95Z" fill="#000" opacity="0.24" filter="url(#b1_25)"/>
<path d="M515.1 222.95 Q521.05 222.95 527 222.95 A3.5 2.25 0 0 1 527 227.45 Q521.05 227.45 515.1 227.45 A3.5 2.25 0 0 1 515.1 222.95Z" fill="#000" opacity="0.29" filter="url(#b1_25)"/>
</g>
<path d="M93.6 200.8 H533.4 V236.4 H383.6 V233.9 H93.6 Z" fill="none" stroke="#585858" stroke-width="1.0"/>
<text class="s b" x="91.3" y="259.1" font-size="8.5" text-anchor="end" fill="#111">ERK</text>
<clipPath id="c6"><rect x="93.6" y="236.9" width="439.8" height="35.1"/></clipPath>
<rect x="93.6" y="236.9" width="290" height="35.1" fill="#ffffff"/>
<rect x="383.6" y="236.9" width="149.8" height="35.1" fill="#ffffff"/>
<g clip-path="url(#c6)">
<path d="M103.4 245.43 Q108.65 245.73 113.9 245.43 A7.4 5.5 0 0 1 113.9 256.43 Q108.65 256.73 103.4 256.43 A7.4 5.5 0 0 1 103.4 245.43Z" fill="#000" opacity="1" filter="url(#b0_7)"/>
<path d="M129 246.8 Q133.4 246.8 137.8 246.8 A6.8 5 0 0 1 137.8 256.8 Q133.4 256.8 129 256.8 A6.8 5 0 0 1 129 246.8Z" fill="#000" opacity="1" filter="url(#b0_7)" transform="rotate(3 133.4 251.8)"/>
<path d="M152.8 248.33 Q157.2 248.63 161.6 248.33 A6.8 5 0 0 1 161.6 258.33 Q157.2 258.63 152.8 258.33 A6.8 5 0 0 1 152.8 248.33Z" fill="#000" opacity="1" filter="url(#b0_7)"/>
<path d="M176.8 249.43 Q180.5 249.73 184.2 249.43 A6.8 5 0 0 1 184.2 259.43 Q180.5 259.73 176.8 259.43 A6.8 5 0 0 1 176.8 249.43Z" fill="#000" opacity="1" filter="url(#b0_7)"/>
<path d="M199.6 249.23 Q203.2 249.53 206.8 249.23 A6.2 4.5 0 0 1 206.8 258.23 Q203.2 258.53 199.6 258.23 A6.2 4.5 0 0 1 199.6 249.23Z" fill="#000" opacity="1" filter="url(#b0_7)"/>
<path d="M221.2 250.23 Q225.3 250.53 229.4 250.23 A6.2 4.5 0 0 1 229.4 259.23 Q225.3 259.53 221.2 259.23 A6.2 4.5 0 0 1 221.2 250.23Z" fill="#000" opacity="1" filter="url(#b0_7)"/>
<path d="M243.4 249.93 Q247.1 250.23 250.8 249.93 A6.2 4.5 0 0 1 250.8 258.93 Q247.1 259.23 243.4 258.93 A6.2 4.5 0 0 1 243.4 249.93Z" fill="#000" opacity="1" filter="url(#b0_7)"/>
<path d="M265.5 249.93 Q269.75 250.23 274 249.93 A6.2 4.5 0 0 1 274 258.93 Q269.75 259.23 265.5 258.93 A6.2 4.5 0 0 1 265.5 249.93Z" fill="#000" opacity="1" filter="url(#b0_7)"/>
<path d="M288.5 248.4 Q293.35 248.4 298.2 248.4 A6.8 5 0 0 1 298.2 258.4 Q293.35 258.4 288.5 258.4 A6.8 5 0 0 1 288.5 248.4Z" fill="#000" opacity="1" filter="url(#b0_7)" transform="rotate(-2 293.35 253.4)"/>
<path d="M312.6 247.25 Q317.75 247.25 322.9 247.25 A5.3 3.75 0 0 1 322.9 254.75 Q317.75 254.75 312.6 254.75 A5.3 3.75 0 0 1 312.6 247.25Z" fill="#000" opacity="1" filter="url(#b0_7)" transform="rotate(-3.9 317.75 251)"/>
<path d="M336.4 245.1 Q341.6 245.1 346.8 245.1 A6.2 4.5 0 0 1 346.8 254.1 Q341.6 254.1 336.4 254.1 A6.2 4.5 0 0 1 336.4 245.1Z" fill="#000" opacity="1" filter="url(#b0_7)" transform="rotate(-4.35 341.6 249.6)"/>
<path d="M361.2 242.8 Q368.25 242.8 375.3 242.8 A6.2 4.5 0 0 1 375.3 251.8 Q368.25 251.8 361.2 251.8 A6.2 4.5 0 0 1 361.2 242.8Z" fill="#000" opacity="1" filter="url(#b0_7)" transform="rotate(-4.35 368.25 247.3)"/>
<path d="M102.4 262 Q109.25 262 116.1 262 A4.4 3 0 0 1 116.1 268 Q109.25 268 102.4 268 A4.4 3 0 0 1 102.4 262Z" fill="#000" opacity="1" filter="url(#b0_7)" transform="rotate(3 109.25 265)"/>
<path d="M128.3 263.85 Q133.55 263.85 138.8 263.85 A3.5 2.25 0 0 1 138.8 268.35 Q133.55 268.35 128.3 268.35 A3.5 2.25 0 0 1 128.3 263.85Z" fill="#000" opacity="1" filter="url(#b0_7)" transform="rotate(3.45 133.55 266.1)"/>
<path d="M151.3 264.43 Q157.4 264.73 163.5 264.43 A3.8 2.5 0 0 1 163.5 269.43 Q157.4 269.73 151.3 269.43 A3.8 2.5 0 0 1 151.3 264.43Z" fill="#000" opacity="1" filter="url(#b0_7)"/>
<path d="M175.2 265.03 Q180.8 265.33 186.4 265.03 A3.8 2.5 0 0 1 186.4 270.03 Q180.8 270.33 175.2 270.03 A3.8 2.5 0 0 1 175.2 265.03Z" fill="#000" opacity="1" filter="url(#b0_7)"/>
<path d="M198.2 265.53 Q203.25 265.83 208.3 265.53 A3.2 2 0 0 1 208.3 269.53 Q203.25 269.83 198.2 269.53 A3.2 2 0 0 1 198.2 265.53Z" fill="#000" opacity="1" filter="url(#b0_7)"/>
<path d="M220.2 265.03 Q225.6 265.33 231 265.03 A3.8 2.5 0 0 1 231 270.03 Q225.6 270.33 220.2 270.03 A3.8 2.5 0 0 1 220.2 265.03Z" fill="#000" opacity="1" filter="url(#b0_7)"/>
<path d="M242.5 265.03 Q247.1 265.33 251.7 265.03 A3.8 2.5 0 0 1 251.7 270.03 Q247.1 270.33 242.5 270.03 A3.8 2.5 0 0 1 242.5 265.03Z" fill="#000" opacity="1" filter="url(#b0_7)"/>
<path d="M265.1 264.43 Q270.05 264.73 275 264.43 A3.8 2.5 0 0 1 275 269.43 Q270.05 269.73 265.1 269.43 A3.8 2.5 0 0 1 265.1 264.43Z" fill="#000" opacity="1" filter="url(#b0_7)"/>
<path d="M287.04 263.4 Q293.25 263.4 299.46 263.4 A4.04 2.7 0 0 1 299.46 268.8 Q293.25 268.8 287.04 268.8 A4.04 2.7 0 0 1 287.04 263.4Z" fill="#000" opacity="1" filter="url(#b0_7)" transform="rotate(-3 293.25 266.1)"/>
<path d="M311.6 262.2 Q317.25 262.2 322.9 262.2 A3.8 2.5 0 0 1 322.9 267.2 Q317.25 267.2 311.6 267.2 A3.8 2.5 0 0 1 311.6 262.2Z" fill="#000" opacity="1" filter="url(#b0_7)" transform="rotate(-3.9 317.25 264.7)"/>
<path d="M335.28 259.8 Q341.5 259.8 347.72 259.8 A4.28 2.9 0 0 1 347.72 265.6 Q341.5 265.6 335.28 265.6 A4.28 2.9 0 0 1 335.28 259.8Z" fill="#000" opacity="1" filter="url(#b0_7)" transform="rotate(-4.35 341.5 262.7)"/>
<path d="M361.7 257.3 Q369.15 257.3 376.6 257.3 A4.4 3 0 0 1 376.6 263.3 Q369.15 263.3 361.7 263.3 A4.4 3 0 0 1 361.7 257.3Z" fill="#000" opacity="1" filter="url(#b0_7)" transform="rotate(-4.35 369.15 260.3)"/>
<path d="M393.6 243.43 Q399 243.73 404.4 243.43 A5.6 4 0 0 1 404.4 251.43 Q399 251.73 393.6 251.43 A5.6 4 0 0 1 393.6 243.43Z" fill="#000" opacity="1" filter="url(#b0_7)"/>
<path d="M418.1 244.23 Q422.7 244.53 427.3 244.23 A4.4 3 0 0 1 427.3 250.23 Q422.7 250.53 418.1 250.23 A4.4 3 0 0 1 418.1 244.23Z" fill="#000" opacity="1" filter="url(#b0_7)"/>
<path d="M440.4 244.43 Q444.75 244.73 449.1 244.43 A4.4 3 0 0 1 449.1 250.43 Q444.75 250.73 440.4 250.43 A4.4 3 0 0 1 440.4 244.43Z" fill="#000" opacity="1" filter="url(#b0_7)"/>
<path d="M462.8 243.8 Q469.7 243.8 476.6 243.8 A4.4 3 0 0 1 476.6 249.8 Q469.7 249.8 462.8 249.8 A4.4 3 0 0 1 462.8 243.8Z" fill="#000" opacity="1" filter="url(#b0_7)" transform="rotate(-2 469.7 246.8)"/>
<path d="M489.9 242.8 Q493.5 242.8 497.1 242.8 A4.4 3 0 0 1 497.1 248.8 Q493.5 248.8 489.9 248.8 A4.4 3 0 0 1 489.9 242.8Z" fill="#000" opacity="1" filter="url(#b0_7)" transform="rotate(-3 493.5 245.8)"/>
<path d="M510.3 240.85 Q518.5 240.85 526.7 240.85 A5.3 3.75 0 0 1 526.7 248.35 Q518.5 248.35 510.3 248.35 A5.3 3.75 0 0 1 510.3 240.85Z" fill="#000" opacity="1" filter="url(#b0_7)" transform="rotate(-3.9 518.5 244.6)"/>
<path d="M393.68 256.73 Q400 257.03 406.32 256.73 A3.68 2.4 0 0 1 406.32 261.52 Q400 261.82 393.68 261.52 A3.68 2.4 0 0 1 393.68 256.73Z" fill="#000" opacity="1" filter="url(#b0_7)"/>
<path d="M417.88 257.33 Q422.95 257.63 428.02 257.33 A3.68 2.4 0 0 1 428.02 262.12 Q422.95 262.43 417.88 262.12 A3.68 2.4 0 0 1 417.88 257.33Z" fill="#000" opacity="1" filter="url(#b0_7)"/>
<path d="M439.56 257.93 Q444.75 258.23 449.94 257.93 A3.56 2.3 0 0 1 449.94 262.53 Q444.75 262.83 439.56 262.53 A3.56 2.3 0 0 1 439.56 257.93Z" fill="#000" opacity="1" filter="url(#b0_7)"/>
<path d="M462.5 257.2 Q468.75 257.2 475 257.2 A3.2 2 0 0 1 475 261.2 Q468.75 261.2 462.5 261.2 A3.2 2 0 0 1 462.5 257.2Z" fill="#000" opacity="1" filter="url(#b0_7)" transform="rotate(-3 468.75 259.2)"/>
<path d="M490.08 256.4 Q493.5 256.4 496.92 256.4 A3.08 1.9 0 0 1 496.92 260.2 Q493.5 260.2 490.08 260.2 A3.08 1.9 0 0 1 490.08 256.4Z" fill="#000" opacity="1" filter="url(#b0_7)" transform="rotate(-3 493.5 258.3)"/>
<path d="M510.26 255 Q518.9 255 527.54 255 A2.96 1.8 0 0 1 527.54 258.6 Q518.9 258.6 510.26 258.6 A2.96 1.8 0 0 1 510.26 255Z" fill="#000" opacity="1" filter="url(#b0_7)" transform="rotate(-4.35 518.9 256.8)"/>
</g>
<rect x="93.6" y="236.9" width="439.8" height="35.1" fill="none" stroke="#585858" stroke-width="1.0"/>
<text class="s b" x="91.7" y="294.5" font-size="8.5" text-anchor="end" fill="#111">phos-ERK</text>
<clipPath id="c7"><rect x="93.6" y="275.3" width="439.8" height="31.5"/></clipPath>
<rect x="93.6" y="275.3" width="290" height="31.5" fill="#fbfbfb"/>
<rect x="383.6" y="275.3" width="149.8" height="31.5" fill="#f6f6f6"/>
<g clip-path="url(#c7)">
<path d="M100.76 291.05 Q107 291.65 113.24 291.05 A4.76 3.3 0 0 1 113.24 297.65 Q107 298.25 100.76 297.65 A4.76 3.3 0 0 1 100.76 291.05Z" fill="#000" opacity="1" filter="url(#b0_7)"/>
<path d="M125.4 292.6 Q131 292.6 136.6 292.6 A4.4 3 0 0 1 136.6 298.6 Q131 298.6 125.4 298.6 A4.4 3 0 0 1 125.4 292.6Z" fill="#000" opacity="1" filter="url(#b0_7)" transform="rotate(3 131 295.6)"/>
<path d="M149.6 294.4 Q155.6 294.4 161.6 294.4 A3.8 2.5 0 0 1 161.6 299.4 Q155.6 299.4 149.6 299.4 A3.8 2.5 0 0 1 149.6 294.4Z" fill="#000" opacity="1" filter="url(#b0_7)" transform="rotate(2 155.6 296.9)"/>
<path d="M175.8 291.65 Q179.7 292.25 183.6 291.65 A7.4 5.5 0 0 1 183.6 302.65 Q179.7 303.25 175.8 302.65 A7.4 5.5 0 0 1 175.8 291.65Z" fill="#000" opacity="1" filter="url(#b0_7)"/>
<path d="M198.32 297.05 Q202.8 297.65 207.28 297.05 A3.32 2.1 0 0 1 207.28 301.25 Q202.8 301.85 198.32 301.25 A3.32 2.1 0 0 1 198.32 297.05Z" fill="#000" opacity="1" filter="url(#b0_7)"/>
<path d="M222.6 293.25 Q226.2 293.85 229.8 293.25 A6.8 5 0 0 1 229.8 303.25 Q226.2 303.85 222.6 303.25 A6.8 5 0 0 1 222.6 293.25Z" fill="#000" opacity="1" filter="url(#b0_7)"/>
<path d="M244.32 297.65 Q249 298.25 253.68 297.65 A3.32 2.1 0 0 1 253.68 301.85 Q249 302.45 244.32 301.85 A3.32 2.1 0 0 1 244.32 297.65Z" fill="#000" opacity="1" filter="url(#b0_7)"/>
<path d="M268.7 292.25 Q272.15 292.85 275.6 292.25 A7.4 5.5 0 0 1 275.6 303.25 Q272.15 303.85 268.7 303.25 A7.4 5.5 0 0 1 268.7 292.25Z" fill="#000" opacity="1" filter="url(#b0_7)"/>
<path d="M290.8 292.25 Q295.5 292.85 300.2 292.25 A6.2 4.5 0 0 1 300.2 301.25 Q295.5 301.85 290.8 301.25 A6.2 4.5 0 0 1 290.8 292.25Z" fill="#000" opacity="1" filter="url(#b0_7)"/>
<path d="M314.6 291.25 Q319.4 291.85 324.2 291.25 A6.8 5 0 0 1 324.2 301.25 Q319.4 301.85 314.6 301.25 A6.8 5 0 0 1 314.6 291.25Z" fill="#000" opacity="1" filter="url(#b0_7)"/>
<path d="M337.66 291.6 Q343.75 291.6 349.84 291.6 A4.16 2.8 0 0 1 349.84 297.2 Q343.75 297.2 337.66 297.2 A4.16 2.8 0 0 1 337.66 291.6Z" fill="#000" opacity="1" filter="url(#b0_7)" transform="rotate(-1 343.75 294.4)"/>
<path d="M361.48 292.7 Q369.5 292.7 377.52 292.7 A2.48 1.4 0 0 1 377.52 295.5 Q369.5 295.5 361.48 295.5 A2.48 1.4 0 0 1 361.48 292.7Z" fill="#000" opacity="0.36" filter="url(#b0_9)" transform="rotate(-2 369.5 294.1)"/>
<path d="M100.9 280.65 Q107 280.65 113.1 280.65 A2.9 1.75 0 0 1 113.1 284.15 Q107 284.15 100.9 284.15 A2.9 1.75 0 0 1 100.9 280.65Z" fill="#000" opacity="0.08" filter="url(#b1_2)"/>
<path d="M124.9 281.15 Q130.5 281.15 136.1 281.15 A2.9 1.75 0 0 1 136.1 284.65 Q130.5 284.65 124.9 284.65 A2.9 1.75 0 0 1 124.9 281.15Z" fill="#000" opacity="0.07" filter="url(#b1_2)"/>
<path d="M150.9 283.15 Q156 283.15 161.1 283.15 A2.9 1.75 0 0 1 161.1 286.65 Q156 286.65 150.9 286.65 A2.9 1.75 0 0 1 150.9 283.15Z" fill="#000" opacity="0.05" filter="url(#b1_2)"/>
<path d="M175.4 284.2 Q180.2 284.2 185 284.2 A3.2 2 0 0 1 185 288.2 Q180.2 288.2 175.4 288.2 A3.2 2 0 0 1 175.4 284.2Z" fill="#000" opacity="0.55" filter="url(#b1_0)"/>
<path d="M198.6 285.4 Q203 285.4 207.4 285.4 A2.6 1.5 0 0 1 207.4 288.4 Q203 288.4 198.6 288.4 A2.6 1.5 0 0 1 198.6 285.4Z" fill="#000" opacity="0.05" filter="url(#b1_2)"/>
<path d="M221.9 285.7 Q226 285.7 230.1 285.7 A3.2 2 0 0 1 230.1 289.7 Q226 289.7 221.9 289.7 A3.2 2 0 0 1 221.9 285.7Z" fill="#000" opacity="0.45" filter="url(#b1_0)"/>
<path d="M244.9 285.95 Q249 285.95 253.1 285.95 A2.9 1.75 0 0 1 253.1 289.45 Q249 289.45 244.9 289.45 A2.9 1.75 0 0 1 244.9 285.95Z" fill="#000" opacity="0.1" filter="url(#b1_2)"/>
<path d="M267.4 284.9 Q272.2 284.9 277 284.9 A3.2 2 0 0 1 277 288.9 Q272.2 288.9 267.4 288.9 A3.2 2 0 0 1 267.4 284.9Z" fill="#000" opacity="0.42" filter="url(#b1_0)"/>
<path d="M290.7 284.2 Q295.75 284.2 300.8 284.2 A3.2 2 0 0 1 300.8 288.2 Q295.75 288.2 290.7 288.2 A3.2 2 0 0 1 290.7 284.2Z" fill="#000" opacity="0.4" filter="url(#b1_0)"/>
<path d="M314 283.7 Q319.5 283.7 325 283.7 A3.2 2 0 0 1 325 287.7 Q319.5 287.7 314 287.7 A3.2 2 0 0 1 314 283.7Z" fill="#000" opacity="0.28" filter="url(#b1_1)"/>
<path d="M338.9 282.15 Q344 282.15 349.1 282.15 A2.9 1.75 0 0 1 349.1 285.65 Q344 285.65 338.9 285.65 A2.9 1.75 0 0 1 338.9 282.15Z" fill="#000" opacity="0.1" filter="url(#b1_2)"/>
<path d="M362.9 280.65 Q369 280.65 375.1 280.65 A2.9 1.75 0 0 1 375.1 284.15 Q369 284.15 362.9 284.15 A2.9 1.75 0 0 1 362.9 280.65Z" fill="#000" opacity="0.06" filter="url(#b1_2)"/>
<path d="M394.5 291.25 Q400 291.85 405.5 291.25 A5 3.5 0 0 1 405.5 298.25 Q400 298.85 394.5 298.25 A5 3.5 0 0 1 394.5 291.25Z" fill="#000" opacity="1" filter="url(#b0_7)"/>
<path d="M419.3 291.75 Q423 292.35 426.7 291.75 A5.6 4 0 0 1 426.7 299.75 Q423 300.35 419.3 299.75 A5.6 4 0 0 1 419.3 291.75Z" fill="#000" opacity="1" filter="url(#b0_7)"/>
<path d="M440.4 292.75 Q444.5 293.35 448.6 292.75 A4.4 3 0 0 1 448.6 298.75 Q444.5 299.35 440.4 298.75 A4.4 3 0 0 1 440.4 292.75Z" fill="#000" opacity="1" filter="url(#b0_7)"/>
<path d="M461.6 293.6 Q468.3 293.6 475 293.6 A3.2 2 0 0 1 475 297.6 Q468.3 297.6 461.6 297.6 A3.2 2 0 0 1 461.6 293.6Z" fill="#000" opacity="0.38" filter="url(#b1_0)"/>
<path d="M490.2 290.25 Q492.75 290.85 495.3 290.25 A6.2 4.5 0 0 1 495.3 299.25 Q492.75 299.85 490.2 299.25 A6.2 4.5 0 0 1 490.2 290.25Z" fill="#000" opacity="1" filter="url(#b0_7)"/>
<path d="M508.6 290.1 Q517.5 290.1 526.4 290.1 A5.6 4 0 0 1 526.4 298.1 Q517.5 298.1 508.6 298.1 A5.6 4 0 0 1 508.6 290.1Z" fill="#000" opacity="1" filter="url(#b0_7)" transform="rotate(-2 517.5 294.1)"/>
<path d="M394.2 282.4 Q400 282.4 405.8 282.4 A3.2 2 0 0 1 405.8 286.4 Q400 286.4 394.2 286.4 A3.2 2 0 0 1 394.2 282.4Z" fill="#000" opacity="0.14" filter="url(#b1_3)"/>
<path d="M418.2 282.4 Q423 282.4 427.8 282.4 A3.2 2 0 0 1 427.8 286.4 Q423 286.4 418.2 286.4 A3.2 2 0 0 1 418.2 282.4Z" fill="#000" opacity="0.17" filter="url(#b1_3)"/>
<path d="M440.2 282.4 Q444.5 282.4 448.8 282.4 A3.2 2 0 0 1 448.8 286.4 Q444.5 286.4 440.2 286.4 A3.2 2 0 0 1 440.2 282.4Z" fill="#000" opacity="0.1" filter="url(#b1_3)"/>
<path d="M462.6 283.4 Q468.5 283.4 474.4 283.4 A2.6 1.5 0 0 1 474.4 286.4 Q468.5 286.4 462.6 286.4 A2.6 1.5 0 0 1 462.6 283.4Z" fill="#000" opacity="0.03" filter="url(#b1_2)"/>
<path d="M488.2 281.9 Q492.5 281.9 496.8 281.9 A3.2 2 0 0 1 496.8 285.9 Q492.5 285.9 488.2 285.9 A3.2 2 0 0 1 488.2 281.9Z" fill="#000" opacity="0.13" filter="url(#b1_3)"/>
<path d="M509.2 281.9 Q518 281.9 526.8 281.9 A3.2 2 0 0 1 526.8 285.9 Q518 285.9 509.2 285.9 A3.2 2 0 0 1 509.2 281.9Z" fill="#000" opacity="0.2" filter="url(#b1_3)"/>
<path d="M487.8 299.4 Q492.5 299.4 497.2 299.4 A3.8 2.5 0 0 1 497.2 304.4 Q492.5 304.4 487.8 304.4 A3.8 2.5 0 0 1 487.8 299.4Z" fill="#000" opacity="0.12" filter="url(#b1_5)"/>
</g>
<rect x="93.6" y="275.3" width="439.8" height="31.5" fill="none" stroke="#585858" stroke-width="1.0"/>
<text class="s b" x="90.8" y="323.4" font-size="8.5" text-anchor="end" fill="#111">GAPDH</text>
<clipPath id="c8"><rect x="93.6" y="310" width="439.8" height="25.6"/></clipPath>
<rect x="93.6" y="310" width="290" height="25.6" fill="#ffffff"/>
<rect x="383.6" y="310" width="149.8" height="25.6" fill="#ffffff"/>
<g clip-path="url(#c8)">
<rect x="96.6" y="315.9" width="26.8" height="11" rx="6.3" ry="5.5" fill="#000" opacity="1" filter="url(#b0_7)"/>
<rect x="124.8" y="315.4" width="22.7" height="15" rx="6.3" ry="7.5" fill="#000" opacity="1" filter="url(#b0_7)"/>
<rect x="149" y="316.9" width="22.3" height="12" rx="6.3" ry="6" fill="#000" opacity="1" filter="url(#b0_7)"/>
<rect x="172.2" y="317.4" width="21.8" height="11" rx="6.3" ry="5.5" fill="#000" opacity="1" filter="url(#b0_7)"/>
<rect x="197" y="314.5" width="24" height="15" rx="6.3" ry="7.5" fill="#000" opacity="1" filter="url(#b0_7)"/>
<rect x="221.6" y="316.15" width="22.4" height="10.5" rx="6.3" ry="5.25" fill="#000" opacity="1" filter="url(#b0_7)"/>
<rect x="246" y="314.6" width="20.6" height="12" rx="6.3" ry="6" fill="#000" opacity="1" filter="url(#b0_7)"/>
<rect x="268.6" y="314.9" width="20.9" height="13" rx="6.3" ry="6.5" fill="#000" opacity="1" filter="url(#b0_7)"/>
<rect x="291.3" y="316.7" width="20.9" height="11" rx="6.3" ry="5.5" fill="#000" opacity="1" filter="url(#b0_7)"/>
<rect x="314.5" y="315.7" width="21" height="13" rx="6.3" ry="6.5" fill="#000" opacity="1" filter="url(#b0_7)"/>
<rect x="337.8" y="315.7" width="21.5" height="13" rx="6.3" ry="6.5" fill="#000" opacity="1" filter="url(#b0_7)"/>
<rect x="361.6" y="316.2" width="20.4" height="12" rx="6.3" ry="6" fill="#000" opacity="1" filter="url(#b0_7)"/>
<rect x="389.5" y="318.9" width="23.3" height="9" rx="6.3" ry="4.5" fill="#000" opacity="1" filter="url(#b0_7)" transform="rotate(-2 401.15 323.4)"/>
<rect x="415.7" y="316.7" width="24.7" height="13" rx="6.3" ry="6.5" fill="#000" opacity="1" filter="url(#b0_7)"/>
<rect x="441.3" y="318.7" width="20.9" height="11" rx="6.3" ry="5.5" fill="#000" opacity="1" filter="url(#b0_7)"/>
<rect x="463" y="319.3" width="22" height="11" rx="6.3" ry="5.5" fill="#000" opacity="1" filter="url(#b0_7)"/>
<rect x="485.5" y="316.2" width="21.8" height="14" rx="6.3" ry="7" fill="#000" opacity="1" filter="url(#b0_7)"/>
<rect x="508.7" y="317.3" width="23.3" height="11" rx="6.3" ry="5.5" fill="#000" opacity="1" filter="url(#b0_7)" transform="rotate(-3 520.35 322.8)"/>
</g>
<rect x="93.6" y="310" width="439.8" height="25.6" fill="none" stroke="#585858" stroke-width="1.0"/>
<rect x="93.6" y="92.3" width="439.8" height="2.2" fill="#d4d4d4"/>
<line x1="383.6" y1="70" x2="383.6" y2="335.6" stroke="#505050" stroke-width="0.7"/>
<rect x="139.6" y="406.8" width="81" height="129.7" fill="none" stroke="#5d83ad" stroke-width="0.9"/>
<path d="M63.2 411.9 V515.2 H219.5" fill="none" stroke="#111" stroke-width="1.3"/>
<line x1="58.8" y1="412.4" x2="63.2" y2="412.4" stroke="#111" stroke-width="1"/>
<text class="a b" x="57.6" y="415" font-size="7.4" text-anchor="end" fill="#111">250</text>
<line x1="58.8" y1="433" x2="63.2" y2="433" stroke="#111" stroke-width="1"/>
<text class="a b" x="57.6" y="435.6" font-size="7.4" text-anchor="end" fill="#111">200</text>
<line x1="58.8" y1="453.6" x2="63.2" y2="453.6" stroke="#111" stroke-width="1"/>
<text class="a b" x="57.6" y="456.2" font-size="7.4" text-anchor="end" fill="#111">150</text>
<line x1="58.8" y1="474.2" x2="63.2" y2="474.2" stroke="#111" stroke-width="1"/>
<text class="a b" x="57.6" y="476.8" font-size="7.4" text-anchor="end" fill="#111">100</text>
<line x1="58.8" y1="494.7" x2="63.2" y2="494.7" stroke="#111" stroke-width="1"/>
<text class="a b" x="57.6" y="497.3" font-size="7.4" text-anchor="end" fill="#111">50</text>
<line x1="58.8" y1="515.2" x2="63.2" y2="515.2" stroke="#111" stroke-width="1"/>
<text class="a b" x="57.6" y="517.8" font-size="7.4" text-anchor="end" fill="#111">0</text>
<line x1="100.7" y1="515.2" x2="100.7" y2="519.2" stroke="#111" stroke-width="1"/>
<text class="a b" x="100.7" y="527.6" font-size="7.7" text-anchor="middle" fill="#111">p38α</text>
<line x1="180.6" y1="515.2" x2="180.6" y2="519.2" stroke="#111" stroke-width="1"/>
<text class="a b" x="180.6" y="527.6" font-size="7.7" text-anchor="middle" fill="#111">Phos-p38</text>
<text class="a b" font-size="8.4" text-anchor="middle" fill="#111" transform="translate(37.1 463.5) rotate(-90)">Relative Intensity</text>
<path d="M70.8 464.6 V469 M68.8 464.6 H72.8 M68.8 469 H72.8" fill="none" stroke="#000000" stroke-width="0.8" opacity="0.85"/>
<line x1="66.6" y1="466.8" x2="75" y2="466.8" stroke="#000000" stroke-width="1"/>
<circle cx="69.2" cy="465" r="2.35" fill="#000000"/>
<circle cx="72.9" cy="465" r="2.35" fill="#000000"/>
<circle cx="70.8" cy="470.3" r="2.35" fill="#000000"/>
<path d="M82.8 446.5 V461.7 M80.8 446.5 H84.8 M80.8 461.7 H84.8" fill="none" stroke="#ff0a6c" stroke-width="0.8" opacity="0.85"/>
<line x1="78.6" y1="453.5" x2="87" y2="453.5" stroke="#ff0a6c" stroke-width="1"/>
<circle cx="81.3" cy="444.7" r="2.35" fill="#ff0a6c"/>
<circle cx="85" cy="447" r="2.35" fill="#ff0a6c"/>
<circle cx="82.8" cy="469.8" r="2.35" fill="#ff0a6c"/>
<path d="M94.8 437.5 V461.7 M92.8 437.5 H96.8 M92.8 461.7 H96.8" fill="none" stroke="#0f8585" stroke-width="0.8" opacity="0.85"/>
<line x1="90.6" y1="449.5" x2="99" y2="449.5" stroke="#0f8585" stroke-width="1"/>
<circle cx="94.8" cy="432.7" r="2.35" fill="#0f8585"/>
<circle cx="94.8" cy="444.3" r="2.35" fill="#0f8585"/>
<circle cx="94.8" cy="473" r="2.35" fill="#0f8585"/>
<path d="M106.8 446.5 V463.3 M104.8 446.5 H108.8 M104.8 463.3 H108.8" fill="none" stroke="#4b0a8c" stroke-width="0.8" opacity="0.85"/>
<line x1="102.6" y1="454.5" x2="111" y2="454.5" stroke="#4b0a8c" stroke-width="1"/>
<circle cx="106.8" cy="439.3" r="2.35" fill="#4b0a8c"/>
<circle cx="106.8" cy="459" r="2.35" fill="#4b0a8c"/>
<circle cx="106.8" cy="466.5" r="2.35" fill="#4b0a8c"/>
<path d="M118.8 468.4 V470.4 M116.8 468.4 H120.8 M116.8 470.4 H120.8" fill="none" stroke="#b866f0" stroke-width="0.8" opacity="0.85"/>
<line x1="114.6" y1="469.4" x2="123" y2="469.4" stroke="#b866f0" stroke-width="1"/>
<circle cx="117" cy="471" r="2.35" fill="#b866f0"/>
<circle cx="118.8" cy="469.2" r="2.35" fill="#b866f0"/>
<circle cx="121" cy="468.3" r="2.35" fill="#b866f0"/>
<path d="M130.8 460 V468.8 M128.8 460 H132.8 M128.8 468.8 H132.8" fill="none" stroke="#19c8f8" stroke-width="0.8" opacity="0.85"/>
<line x1="126.6" y1="464.4" x2="135" y2="464.4" stroke="#19c8f8" stroke-width="1"/>
<circle cx="129.3" cy="460.4" r="2.35" fill="#19c8f8"/>
<circle cx="133" cy="461" r="2.35" fill="#19c8f8"/>
<circle cx="130.8" cy="472" r="2.35" fill="#19c8f8"/>
<path d="M150.7 501.5 V509.5 M148.7 501.5 H152.7 M148.7 509.5 H152.7" fill="none" stroke="#000000" stroke-width="0.8" opacity="0.85"/>
<line x1="146.5" y1="505.2" x2="154.9" y2="505.2" stroke="#000000" stroke-width="1"/>
<circle cx="150.7" cy="497.5" r="2.35" fill="#000000"/>
<circle cx="150.7" cy="505.2" r="2.35" fill="#000000"/>
<circle cx="150.7" cy="512.4" r="2.35" fill="#000000"/>
<path d="M162.7 483.4 V504 M160.7 483.4 H164.7 M160.7 504 H164.7" fill="none" stroke="#ff0a6c" stroke-width="0.8" opacity="0.85"/>
<line x1="158.5" y1="494.3" x2="166.9" y2="494.3" stroke="#ff0a6c" stroke-width="1"/>
<circle cx="162.7" cy="473.5" r="2.35" fill="#ff0a6c"/>
<circle cx="162.7" cy="498" r="2.35" fill="#ff0a6c"/>
<circle cx="162.7" cy="510.6" r="2.35" fill="#ff0a6c"/>
<path d="M174.7 467.4 V496.5 M172.7 467.4 H176.7 M172.7 496.5 H176.7" fill="none" stroke="#0f8585" stroke-width="0.8" opacity="0.85"/>
<line x1="170.5" y1="481.8" x2="178.9" y2="481.8" stroke="#0f8585" stroke-width="1"/>
<circle cx="174.7" cy="453" r="2.35" fill="#0f8585"/>
<circle cx="174.7" cy="494.3" r="2.35" fill="#0f8585"/>
<circle cx="174.7" cy="498.6" r="2.35" fill="#0f8585"/>
<path d="M186.8 476.8 V508 M184.8 476.8 H188.8 M184.8 508 H188.8" fill="none" stroke="#4b0a8c" stroke-width="0.8" opacity="0.85"/>
<line x1="182.6" y1="492.5" x2="191" y2="492.5" stroke="#4b0a8c" stroke-width="1"/>
<circle cx="186.8" cy="462" r="2.35" fill="#4b0a8c"/>
<circle cx="186.8" cy="502.6" r="2.35" fill="#4b0a8c"/>
<circle cx="186.8" cy="512.8" r="2.35" fill="#4b0a8c"/>
<path d="M198.8 467.4 V487.3 M196.8 467.4 H200.8 M196.8 487.3 H200.8" fill="none" stroke="#b866f0" stroke-width="0.8" opacity="0.85"/>
<line x1="194.6" y1="476.4" x2="203" y2="476.4" stroke="#b866f0" stroke-width="1"/>
<circle cx="198.8" cy="460.9" r="2.35" fill="#b866f0"/>
<circle cx="198.8" cy="476.2" r="2.35" fill="#b866f0"/>
<circle cx="198.8" cy="494.7" r="2.35" fill="#b866f0"/>
<path d="M210.8 462.2 V490 M208.8 462.2 H212.8 M208.8 490 H212.8" fill="none" stroke="#19c8f8" stroke-width="0.8" opacity="0.85"/>
<line x1="206.6" y1="476.2" x2="215" y2="476.2" stroke="#19c8f8" stroke-width="1"/>
<circle cx="210.8" cy="448.4" r="2.35" fill="#19c8f8"/>
<circle cx="210.8" cy="484.5" r="2.35" fill="#19c8f8"/>
<circle cx="210.8" cy="494.3" r="2.35" fill="#19c8f8"/>
<path d="M308 413.1 V516.3 H464.8" fill="none" stroke="#111" stroke-width="1.3"/>
<line x1="303.6" y1="413.6" x2="308" y2="413.6" stroke="#111" stroke-width="1"/>
<text class="a b" x="302.4" y="416.2" font-size="7.4" text-anchor="end" fill="#111">300</text>
<line x1="303.6" y1="447.8" x2="308" y2="447.8" stroke="#111" stroke-width="1"/>
<text class="a b" x="302.4" y="450.4" font-size="7.4" text-anchor="end" fill="#111">200</text>
<line x1="303.6" y1="482" x2="308" y2="482" stroke="#111" stroke-width="1"/>
<text class="a b" x="302.4" y="484.6" font-size="7.4" text-anchor="end" fill="#111">100</text>
<line x1="303.6" y1="516.3" x2="308" y2="516.3" stroke="#111" stroke-width="1"/>
<text class="a b" x="302.4" y="518.9" font-size="7.4" text-anchor="end" fill="#111">0</text>
<line x1="386.2" y1="516.3" x2="386.2" y2="520.3" stroke="#111" stroke-width="1"/>
<text class="a b" x="386.2" y="529.2" font-size="7.7" text-anchor="middle" fill="#111">MK2</text>
<text class="a b" font-size="8.4" text-anchor="middle" fill="#111" transform="translate(281.9 463.5) rotate(-90)">Relative Intensity</text>
<path d="M325 476.7 V483.6 M321.2 476.7 H328.8 M321.2 483.6 H328.8" fill="none" stroke="#000000" stroke-width="0.8" opacity="0.85"/>
<line x1="317" y1="480" x2="333" y2="480" stroke="#000000" stroke-width="1"/>
<circle cx="325" cy="473.8" r="2.35" fill="#000000"/>
<circle cx="325" cy="480" r="2.35" fill="#000000"/>
<circle cx="325" cy="487.3" r="2.35" fill="#000000"/>
<path d="M349.4 456.4 V471.6 M345.6 456.4 H353.2 M345.6 471.6 H353.2" fill="none" stroke="#ff0a6c" stroke-width="0.8" opacity="0.85"/>
<line x1="341.4" y1="464" x2="357.4" y2="464" stroke="#ff0a6c" stroke-width="1"/>
<circle cx="349.4" cy="453" r="2.35" fill="#ff0a6c"/>
<circle cx="349.4" cy="460.7" r="2.35" fill="#ff0a6c"/>
<circle cx="349.4" cy="478.8" r="2.35" fill="#ff0a6c"/>
<path d="M374.2 448.5 V472 M370.4 448.5 H378 M370.4 472 H378" fill="none" stroke="#0f8585" stroke-width="0.8" opacity="0.85"/>
<line x1="366.2" y1="460.4" x2="382.2" y2="460.4" stroke="#0f8585" stroke-width="1"/>
<circle cx="368" cy="447" r="2.35" fill="#0f8585"/>
<circle cx="380" cy="450.5" r="2.35" fill="#0f8585"/>
<circle cx="374.2" cy="483.5" r="2.35" fill="#0f8585"/>
<path d="M398.6 440.8 V472 M394.8 440.8 H402.4 M394.8 472 H402.4" fill="none" stroke="#4b0a8c" stroke-width="0.8" opacity="0.85"/>
<line x1="390.6" y1="456.7" x2="406.6" y2="456.7" stroke="#4b0a8c" stroke-width="1"/>
<circle cx="398.6" cy="428.8" r="2.35" fill="#4b0a8c"/>
<circle cx="398.6" cy="457.8" r="2.35" fill="#4b0a8c"/>
<circle cx="398.6" cy="482.7" r="2.35" fill="#4b0a8c"/>
<path d="M423.3 481.2 V487.3 M419.5 481.2 H427.1 M419.5 487.3 H427.1" fill="none" stroke="#b866f0" stroke-width="0.8" opacity="0.85"/>
<line x1="415.3" y1="484" x2="431.3" y2="484" stroke="#b866f0" stroke-width="1"/>
<circle cx="423.3" cy="478.6" r="2.35" fill="#b866f0"/>
<circle cx="417.2" cy="487.7" r="2.35" fill="#b866f0"/>
<circle cx="429.2" cy="486.6" r="2.35" fill="#b866f0"/>
<path d="M447.7 473 V487.7 M443.9 473 H451.5 M443.9 487.7 H451.5" fill="none" stroke="#19c8f8" stroke-width="0.8" opacity="0.85"/>
<line x1="439.7" y1="480.5" x2="455.7" y2="480.5" stroke="#19c8f8" stroke-width="1"/>
<circle cx="447.7" cy="465.5" r="2.35" fill="#19c8f8"/>
<circle cx="441.8" cy="488.8" r="2.35" fill="#19c8f8"/>
<circle cx="453.8" cy="486.6" r="2.35" fill="#19c8f8"/>
<rect x="139.6" y="567.4" width="81" height="128.8" fill="none" stroke="#5d83ad" stroke-width="0.9"/>
<path d="M63.2 573 V676.7 H219.5" fill="none" stroke="#111" stroke-width="1.3"/>
<line x1="58.8" y1="573.5" x2="63.2" y2="573.5" stroke="#111" stroke-width="1"/>
<text class="a b" x="57.6" y="576.1" font-size="7.4" text-anchor="end" fill="#111">400</text>
<line x1="58.8" y1="599.3" x2="63.2" y2="599.3" stroke="#111" stroke-width="1"/>
<text class="a b" x="57.6" y="601.9" font-size="7.4" text-anchor="end" fill="#111">300</text>
<line x1="58.8" y1="625.1" x2="63.2" y2="625.1" stroke="#111" stroke-width="1"/>
<text class="a b" x="57.6" y="627.7" font-size="7.4" text-anchor="end" fill="#111">200</text>
<line x1="58.8" y1="650.9" x2="63.2" y2="650.9" stroke="#111" stroke-width="1"/>
<text class="a b" x="57.6" y="653.5" font-size="7.4" text-anchor="end" fill="#111">100</text>
<line x1="58.8" y1="676.7" x2="63.2" y2="676.7" stroke="#111" stroke-width="1"/>
<text class="a b" x="57.6" y="679.3" font-size="7.4" text-anchor="end" fill="#111">0</text>
<line x1="100.7" y1="676.7" x2="100.7" y2="680.7" stroke="#111" stroke-width="1"/>
<text class="a b" x="100.7" y="688.9" font-size="7.7" text-anchor="middle" fill="#111">JNK</text>
<line x1="180.6" y1="676.7" x2="180.6" y2="680.7" stroke="#111" stroke-width="1"/>
<text class="a b" x="180.6" y="688.9" font-size="7.7" text-anchor="middle" fill="#111">Phos-JNK</text>
<text class="a b" font-size="8.4" text-anchor="middle" fill="#111" transform="translate(37.1 624.5) rotate(-90)">Relative Intensity</text>
<path d="M70.8 640 V644 M68.8 640 H72.8 M68.8 644 H72.8" fill="none" stroke="#000000" stroke-width="0.8" opacity="0.85"/>
<line x1="66.6" y1="642" x2="75" y2="642" stroke="#000000" stroke-width="1"/>
<circle cx="70.8" cy="638.3" r="2.35" fill="#000000"/>
<circle cx="69.2" cy="643.8" r="2.35" fill="#000000"/>
<circle cx="72.9" cy="643.8" r="2.35" fill="#000000"/>
<path d="M82.8 624.8 V632.5 M80.8 624.8 H84.8 M80.8 632.5 H84.8" fill="none" stroke="#ff0a6c" stroke-width="0.8" opacity="0.85"/>
<line x1="78.6" y1="628.5" x2="87" y2="628.5" stroke="#ff0a6c" stroke-width="1"/>
<circle cx="81.3" cy="623" r="2.35" fill="#ff0a6c"/>
<circle cx="85" cy="624.8" r="2.35" fill="#ff0a6c"/>
<circle cx="82.8" cy="636.8" r="2.35" fill="#ff0a6c"/>
<path d="M94.8 616.7 V643.4 M92.8 616.7 H96.8 M92.8 643.4 H96.8" fill="none" stroke="#0f8585" stroke-width="0.8" opacity="0.85"/>
<line x1="90.6" y1="629.8" x2="99" y2="629.8" stroke="#0f8585" stroke-width="1"/>
<circle cx="94.8" cy="604" r="2.35" fill="#0f8585"/>
<circle cx="94.8" cy="639.7" r="2.35" fill="#0f8585"/>
<circle cx="94.8" cy="647" r="2.35" fill="#0f8585"/>
<path d="M106.8 619 V640 M104.8 619 H108.8 M104.8 640 H108.8" fill="none" stroke="#4b0a8c" stroke-width="0.8" opacity="0.85"/>
<line x1="102.6" y1="629.8" x2="111" y2="629.8" stroke="#4b0a8c" stroke-width="1"/>
<circle cx="106.8" cy="609" r="2.35" fill="#4b0a8c"/>
<circle cx="106.8" cy="636.2" r="2.35" fill="#4b0a8c"/>
<circle cx="106.8" cy="644.5" r="2.35" fill="#4b0a8c"/>
<path d="M118.8 636.5 V642.4 M116.8 636.5 H120.8 M116.8 642.4 H120.8" fill="none" stroke="#b866f0" stroke-width="0.8" opacity="0.85"/>
<line x1="114.6" y1="639.4" x2="123" y2="639.4" stroke="#b866f0" stroke-width="1"/>
<circle cx="118.8" cy="634.6" r="2.35" fill="#b866f0"/>
<circle cx="117" cy="642.3" r="2.35" fill="#b866f0"/>
<circle cx="121" cy="641.6" r="2.35" fill="#b866f0"/>
<path d="M130.8 629.8 V645.5 M128.8 629.8 H132.8 M128.8 645.5 H132.8" fill="none" stroke="#19c8f8" stroke-width="0.8" opacity="0.85"/>
<line x1="126.6" y1="638" x2="135" y2="638" stroke="#19c8f8" stroke-width="1"/>
<circle cx="130.8" cy="622.2" r="2.35" fill="#19c8f8"/>
<circle cx="129.3" cy="646.2" r="2.35" fill="#19c8f8"/>
<circle cx="133" cy="645.5" r="2.35" fill="#19c8f8"/>
<path d="M150.7 672.3 V675.6 M148.7 672.3 H152.7 M148.7 675.6 H152.7" fill="none" stroke="#000000" stroke-width="0.8" opacity="0.85"/>
<line x1="146.5" y1="674" x2="154.9" y2="674" stroke="#000000" stroke-width="1"/>
<circle cx="150.7" cy="670.6" r="2.35" fill="#000000"/>
<circle cx="149" cy="675.6" r="2.35" fill="#000000"/>
<circle cx="152.7" cy="675.6" r="2.35" fill="#000000"/>
<path d="M162.7 663.6 V673.5 M160.7 663.6 H164.7 M160.7 673.5 H164.7" fill="none" stroke="#ff0a6c" stroke-width="0.8" opacity="0.85"/>
<line x1="158.5" y1="668.4" x2="166.9" y2="668.4" stroke="#ff0a6c" stroke-width="1"/>
<circle cx="162.7" cy="659.3" r="2.35" fill="#ff0a6c"/>
<circle cx="162.7" cy="670.2" r="2.35" fill="#ff0a6c"/>
<circle cx="162.7" cy="677.2" r="2.35" fill="#ff0a6c"/>
<path d="M174.7 612.4 V667 M172.7 612.4 H176.7 M172.7 667 H176.7" fill="none" stroke="#0f8585" stroke-width="0.8" opacity="0.85"/>
<line x1="170.5" y1="639.6" x2="178.9" y2="639.6" stroke="#0f8585" stroke-width="1"/>
<circle cx="174.7" cy="585.7" r="2.35" fill="#0f8585"/>
<circle cx="174.7" cy="663.6" r="2.35" fill="#0f8585"/>
<circle cx="174.7" cy="669.7" r="2.35" fill="#0f8585"/>
<path d="M186.8 669.5 V677 M184.8 669.5 H188.8 M184.8 677 H188.8" fill="none" stroke="#4b0a8c" stroke-width="0.8" opacity="0.85"/>
<line x1="182.6" y1="673.5" x2="191" y2="673.5" stroke="#4b0a8c" stroke-width="1"/>
<circle cx="186.8" cy="666.5" r="2.35" fill="#4b0a8c"/>
<circle cx="185" cy="676.7" r="2.35" fill="#4b0a8c"/>
<circle cx="188.7" cy="675.6" r="2.35" fill="#4b0a8c"/>
<path d="M198.8 668.5 V677 M196.8 668.5 H200.8 M196.8 677 H200.8" fill="none" stroke="#b866f0" stroke-width="0.8" opacity="0.85"/>
<line x1="194.6" y1="673" x2="203" y2="673" stroke="#b866f0" stroke-width="1"/>
<circle cx="198.8" cy="665.4" r="2.35" fill="#b866f0"/>
<circle cx="197" cy="676.7" r="2.35" fill="#b866f0"/>
<circle cx="200.7" cy="676.3" r="2.35" fill="#b866f0"/>
<path d="M210.8 670 V677 M208.8 670 H212.8 M208.8 677 H212.8" fill="none" stroke="#19c8f8" stroke-width="0.8" opacity="0.85"/>
<line x1="206.6" y1="673.9" x2="215" y2="673.9" stroke="#19c8f8" stroke-width="1"/>
<circle cx="210.8" cy="668.7" r="2.35" fill="#19c8f8"/>
<circle cx="209" cy="677.2" r="2.35" fill="#19c8f8"/>
<circle cx="213" cy="675.2" r="2.35" fill="#19c8f8"/>
<rect x="386.6" y="567.4" width="82.2" height="128.4" fill="none" stroke="#5d83ad" stroke-width="0.9"/>
<path d="M308 572.7 V676.5 H464.9" fill="none" stroke="#111" stroke-width="1.3"/>
<line x1="303.6" y1="573.2" x2="308" y2="573.2" stroke="#111" stroke-width="1"/>
<text class="a b" x="302.4" y="575.8" font-size="7.4" text-anchor="end" fill="#111">250</text>
<line x1="303.6" y1="593.9" x2="308" y2="593.9" stroke="#111" stroke-width="1"/>
<text class="a b" x="302.4" y="596.5" font-size="7.4" text-anchor="end" fill="#111">200</text>
<line x1="303.6" y1="614.5" x2="308" y2="614.5" stroke="#111" stroke-width="1"/>
<text class="a b" x="302.4" y="617.1" font-size="7.4" text-anchor="end" fill="#111">150</text>
<line x1="303.6" y1="635.2" x2="308" y2="635.2" stroke="#111" stroke-width="1"/>
<text class="a b" x="302.4" y="637.8" font-size="7.4" text-anchor="end" fill="#111">100</text>
<line x1="303.6" y1="655.8" x2="308" y2="655.8" stroke="#111" stroke-width="1"/>
<text class="a b" x="302.4" y="658.4" font-size="7.4" text-anchor="end" fill="#111">50</text>
<line x1="303.6" y1="676.5" x2="308" y2="676.5" stroke="#111" stroke-width="1"/>
<text class="a b" x="302.4" y="679.1" font-size="7.4" text-anchor="end" fill="#111">0</text>
<line x1="346.4" y1="676.5" x2="346.4" y2="680.5" stroke="#111" stroke-width="1"/>
<text class="a b" x="346.4" y="688.5" font-size="7.7" text-anchor="middle" fill="#111">ERK</text>
<line x1="426.3" y1="676.5" x2="426.3" y2="680.5" stroke="#111" stroke-width="1"/>
<text class="a b" x="426.3" y="688.5" font-size="7.7" text-anchor="middle" fill="#111">Phos-ERK</text>
<text class="a b" font-size="8.4" text-anchor="middle" fill="#111" transform="translate(281.9 624.5) rotate(-90)">Relative Intensity</text>
<path d="M316.7 627.4 V633.4 M314.7 627.4 H318.7 M314.7 633.4 H318.7" fill="none" stroke="#000000" stroke-width="0.8" opacity="0.85"/>
<line x1="312.5" y1="630.3" x2="320.9" y2="630.3" stroke="#000000" stroke-width="1"/>
<circle cx="315.2" cy="627.2" r="2.35" fill="#000000"/>
<circle cx="318.6" cy="628.3" r="2.35" fill="#000000"/>
<circle cx="316.7" cy="636.4" r="2.35" fill="#000000"/>
<path d="M328.3 610.6 V628.7 M326.3 610.6 H330.3 M326.3 628.7 H330.3" fill="none" stroke="#ff0a6c" stroke-width="0.8" opacity="0.85"/>
<line x1="324.1" y1="619.6" x2="332.5" y2="619.6" stroke="#ff0a6c" stroke-width="1"/>
<circle cx="328.3" cy="607.3" r="2.35" fill="#ff0a6c"/>
<circle cx="328.3" cy="615.2" r="2.35" fill="#ff0a6c"/>
<circle cx="328.3" cy="636.8" r="2.35" fill="#ff0a6c"/>
<path d="M340.7 603.6 V628.7 M338.7 603.6 H342.7 M338.7 628.7 H342.7" fill="none" stroke="#0f8585" stroke-width="0.8" opacity="0.85"/>
<line x1="336.5" y1="615.6" x2="344.9" y2="615.6" stroke="#0f8585" stroke-width="1"/>
<circle cx="338.7" cy="601.5" r="2.35" fill="#0f8585"/>
<circle cx="342.5" cy="603.6" r="2.35" fill="#0f8585"/>
<circle cx="340.7" cy="641.8" r="2.35" fill="#0f8585"/>
<path d="M352.7 607 V628 M350.7 607 H354.7 M350.7 628 H354.7" fill="none" stroke="#4b0a8c" stroke-width="0.8" opacity="0.85"/>
<line x1="348.5" y1="617.8" x2="356.9" y2="617.8" stroke="#4b0a8c" stroke-width="1"/>
<circle cx="352.7" cy="599.3" r="2.35" fill="#4b0a8c"/>
<circle cx="352.7" cy="617.8" r="2.35" fill="#4b0a8c"/>
<circle cx="352.7" cy="635.3" r="2.35" fill="#4b0a8c"/>
<path d="M364.7 626 V640.5 M362.7 626 H366.7 M362.7 640.5 H366.7" fill="none" stroke="#b866f0" stroke-width="0.8" opacity="0.85"/>
<line x1="360.5" y1="633.5" x2="368.9" y2="633.5" stroke="#b866f0" stroke-width="1"/>
<circle cx="364.7" cy="618.5" r="2.35" fill="#b866f0"/>
<circle cx="362.8" cy="640.7" r="2.35" fill="#b866f0"/>
<circle cx="366.9" cy="640.7" r="2.35" fill="#b866f0"/>
<path d="M376.7 605.4 V626.5 M374.7 605.4 H378.7 M374.7 626.5 H378.7" fill="none" stroke="#19c8f8" stroke-width="0.8" opacity="0.85"/>
<line x1="372.5" y1="617.2" x2="380.9" y2="617.2" stroke="#19c8f8" stroke-width="1"/>
<circle cx="376.7" cy="597.5" r="2.35" fill="#19c8f8"/>
<circle cx="376.7" cy="617.2" r="2.35" fill="#19c8f8"/>
<circle cx="376.7" cy="634.2" r="2.35" fill="#19c8f8"/>
<path d="M396.2 646.8 V652.2 M394.2 646.8 H398.2 M394.2 652.2 H398.2" fill="none" stroke="#000000" stroke-width="0.8" opacity="0.85"/>
<line x1="392" y1="649.5" x2="400.4" y2="649.5" stroke="#000000" stroke-width="1"/>
<circle cx="396.2" cy="643.3" r="2.35" fill="#000000"/>
<circle cx="394.6" cy="652" r="2.35" fill="#000000"/>
<circle cx="398" cy="651.6" r="2.35" fill="#000000"/>
<path d="M408.2 615.6 V649 M406.2 615.6 H410.2 M406.2 649 H410.2" fill="none" stroke="#ff0a6c" stroke-width="0.8" opacity="0.85"/>
<line x1="404" y1="633" x2="412.4" y2="633" stroke="#ff0a6c" stroke-width="1"/>
<circle cx="408.2" cy="598.8" r="2.35" fill="#ff0a6c"/>
<circle cx="408.2" cy="645.7" r="2.35" fill="#ff0a6c"/>
<circle cx="408.2" cy="654.3" r="2.35" fill="#ff0a6c"/>
<path d="M420.2 619 V652.7 M418.2 619 H422.2 M418.2 652.7 H422.2" fill="none" stroke="#0f8585" stroke-width="0.8" opacity="0.85"/>
<line x1="416" y1="635.7" x2="424.4" y2="635.7" stroke="#0f8585" stroke-width="1"/>
<circle cx="420.2" cy="607.6" r="2.35" fill="#0f8585"/>
<circle cx="420.2" cy="634.2" r="2.35" fill="#0f8585"/>
<circle cx="420.2" cy="665.8" r="2.35" fill="#0f8585"/>
<path d="M432.2 641.2 V663.6 M430.2 641.2 H434.2 M430.2 663.6 H434.2" fill="none" stroke="#4b0a8c" stroke-width="0.8" opacity="0.85"/>
<line x1="428" y1="653.4" x2="436.4" y2="653.4" stroke="#4b0a8c" stroke-width="1"/>
<circle cx="432.2" cy="629.4" r="2.35" fill="#4b0a8c"/>
<circle cx="434" cy="663.2" r="2.35" fill="#4b0a8c"/>
<circle cx="430.2" cy="667.3" r="2.35" fill="#4b0a8c"/>
<path d="M444.4 646.2 V649.4 M442.4 646.2 H446.4 M442.4 649.4 H446.4" fill="none" stroke="#b866f0" stroke-width="0.8" opacity="0.85"/>
<line x1="440.2" y1="647.8" x2="448.6" y2="647.8" stroke="#b866f0" stroke-width="1"/>
<circle cx="444.4" cy="645" r="2.35" fill="#b866f0"/>
<circle cx="442.6" cy="649.5" r="2.35" fill="#b866f0"/>
<circle cx="446.4" cy="648.8" r="2.35" fill="#b866f0"/>
<path d="M456.2 639.2 V664.7 M454.2 639.2 H458.2 M454.2 664.7 H458.2" fill="none" stroke="#19c8f8" stroke-width="0.8" opacity="0.85"/>
<line x1="452" y1="652" x2="460.4" y2="652" stroke="#19c8f8" stroke-width="1"/>
<circle cx="456.2" cy="628" r="2.35" fill="#19c8f8"/>
<circle cx="456.2" cy="658.6" r="2.35" fill="#19c8f8"/>
<circle cx="456.2" cy="669.5" r="2.35" fill="#19c8f8"/>
<circle cx="144.6" cy="561.7" r="0.5" fill="#888"/><circle cx="392.5" cy="560.8" r="0.5" fill="#888"/>
<circle cx="493.3" cy="420.6" r="2.35" fill="#000000"/>
<text class="a" x="505" y="422.7" font-size="8.2" text-anchor="start" fill="#222" stroke="#222" stroke-width="0.15">1M</text>
<circle cx="493.3" cy="434.6" r="2.35" fill="#ff0a6c"/>
<text class="a" x="505" y="436.7" font-size="8.2" text-anchor="start" fill="#222" stroke="#222" stroke-width="0.15">3M</text>
<circle cx="493.3" cy="448.7" r="2.35" fill="#0f8585"/>
<text class="a" x="505" y="450.8" font-size="8.2" text-anchor="start" fill="#222" stroke="#222" stroke-width="0.15">6M</text>
<circle cx="493.3" cy="462.6" r="2.35" fill="#4b0a8c"/>
<text class="a" x="505" y="464.7" font-size="8.2" text-anchor="start" fill="#222" stroke="#222" stroke-width="0.15">13M</text>
<circle cx="493.3" cy="476.7" r="2.35" fill="#b866f0"/>
<text class="a" x="505" y="478.8" font-size="8.2" text-anchor="start" fill="#222" stroke="#222" stroke-width="0.15">18M</text>
<circle cx="493.3" cy="490.7" r="2.35" fill="#19c8f8"/>
<text class="a" x="505" y="492.8" font-size="8.2" text-anchor="start" fill="#222" stroke="#222" stroke-width="0.15">24M</text>
</svg></body></html>
